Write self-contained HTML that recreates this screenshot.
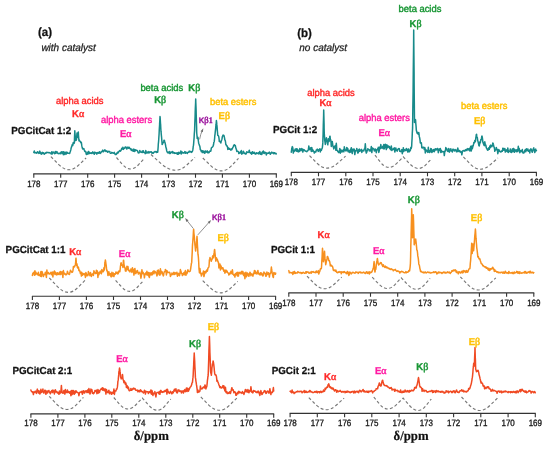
<!DOCTYPE html>
<html><head><meta charset="utf-8"><title>NMR spectra</title>
<style>
html,body{margin:0;padding:0;background:#fff;}
svg{display:block}
text{font-family:"Liberation Sans",sans-serif;fill:#111;stroke:#111;stroke-width:0.2;text-rendering:geometricPrecision}
.tk{text-anchor:middle;fill:#1a1a1a;stroke:#1a1a1a;stroke-width:0.3}
.hb{font-weight:bold;stroke-width:0.25}
.it{font-style:italic;fill:#222;stroke:#222;stroke-width:0.25}
.kb{font-weight:bold;stroke-width:0.3}
.rg{stroke-width:0.4}
.gr{font-family:"Liberation Serif",serif;font-weight:normal;stroke-width:0.45}
.sub{font-family:"Liberation Serif",serif;font-weight:bold}
.axt{font-family:"Liberation Serif",serif;font-weight:bold}
</style></head><body>
<svg width="550" height="449" viewBox="0 0 550 449">
<rect width="550" height="449" fill="#ffffff"/>
<polyline points="33.8,152.5 34.0,151.7 34.3,150.9 34.5,151.9 34.8,152.9 35.0,152.8 35.3,152.7 35.5,152.6 35.8,152.5 36.0,152.8 36.3,153.1 36.5,153.2 36.8,153.2 37.0,152.7 37.3,152.1 37.5,151.9 37.8,151.7 38.0,152.1 38.3,152.5 38.5,153.0 38.8,153.4 39.0,153.4 39.3,153.3 39.5,152.2 39.8,151.1 40.0,151.6 40.3,152.1 40.5,152.8 40.8,153.5 41.0,153.8 41.3,154.1 41.5,153.5 41.8,152.9 42.0,152.6 42.3,152.4 42.5,153.1 42.8,153.7 43.0,153.2 43.3,152.7 43.5,153.1 43.8,153.4 44.0,153.8 44.3,154.1 44.5,153.7 44.8,153.4 45.0,153.2 45.3,153.0 45.5,153.2 45.8,153.4 46.0,152.9 46.3,152.4 46.5,152.6 46.8,152.8 47.0,152.6 47.3,152.5 47.5,152.5 47.8,152.6 48.0,152.6 48.3,152.5 48.5,152.6 48.8,152.8 49.0,152.7 49.3,152.6 49.5,152.8 49.8,153.0 50.0,153.0 50.3,152.9 50.5,153.0 50.8,153.1 51.0,153.5 51.3,154.0 51.5,152.8 51.8,151.7 52.0,152.8 52.3,153.9 52.5,153.3 52.8,152.7 53.0,152.3 53.3,152.0 53.5,152.4 53.8,152.8 54.0,152.9 54.3,153.0 54.5,153.3 54.8,153.7 55.0,152.6 55.3,151.5 55.5,152.3 55.8,153.2 56.0,153.1 56.3,153.0 56.5,152.3 56.8,151.6 57.0,151.8 57.3,152.0 57.5,152.7 57.8,153.4 58.0,153.4 58.3,153.4 58.5,153.6 58.8,153.7 59.0,153.5 59.3,153.3 59.5,153.4 59.8,153.4 60.0,153.3 60.0,153.2 60.3,153.0 60.5,153.4 60.8,153.8 61.0,152.8 61.3,151.8 61.5,152.3 61.8,152.8 62.0,153.0 62.3,153.2 62.5,152.5 62.8,151.7 63.0,153.2 63.3,154.7 63.5,153.2 63.8,151.8 64.0,152.3 64.3,152.8 64.5,153.7 64.8,154.5 65.0,153.4 65.3,152.3 65.5,152.4 65.8,152.5 66.0,153.3 66.3,154.1 66.5,153.1 66.8,152.1 67.0,152.3 67.3,152.6 67.5,152.9 67.8,153.3 68.0,153.3 68.3,153.2 68.5,153.3 68.8,153.3 69.0,153.3 69.3,153.2 69.5,153.5 69.5,153.4 69.8,153.1 70.0,152.3 70.3,151.5 70.5,150.7 70.8,149.9 71.0,148.8 71.3,147.6 71.5,147.1 71.5,147.0 71.8,146.4 72.0,145.5 72.3,144.5 72.5,145.0 72.8,145.5 73.0,144.0 73.3,142.5 73.5,142.9 73.5,143.0 73.8,143.5 74.0,143.3 74.3,143.1 74.4,142.4 74.5,138.0 74.8,130.7 75.0,133.8 75.3,136.9 75.5,140.0 75.6,140.6 75.8,140.2 76.0,140.2 76.3,140.2 76.5,139.1 76.6,138.9 76.8,135.6 77.0,133.1 77.0,133.5 77.3,135.4 77.5,136.9 77.6,137.2 77.8,135.6 78.0,133.8 78.3,132.0 78.5,135.6 78.8,139.1 79.0,140.8 79.0,140.7 79.3,140.0 79.5,140.5 79.8,141.1 80.0,141.3 80.3,141.6 80.5,141.9 80.5,142.0 80.8,142.7 81.0,142.4 81.3,142.2 81.5,143.3 81.5,143.7 81.8,145.7 82.0,146.7 82.3,147.7 82.5,148.6 82.5,148.7 82.8,149.0 83.0,149.1 83.3,149.1 83.5,148.8 83.8,148.5 84.0,149.2 84.3,149.9 84.5,150.6 84.5,150.7 84.8,151.4 85.0,151.3 85.3,151.2 85.5,151.4 85.8,151.6 86.0,153.0 86.3,154.4 86.5,154.2 86.8,154.0 87.0,153.4 87.3,152.7 87.5,153.5 87.5,153.6 87.8,154.3 88.0,152.9 88.3,151.4 88.5,151.4 88.8,151.4 89.0,152.5 89.3,153.6 89.5,153.1 89.8,152.7 90.0,153.0 90.3,153.3 90.5,153.3 90.8,153.3 91.0,153.1 91.3,152.8 91.5,153.1 91.8,153.4 92.0,153.2 92.3,153.0 92.5,152.4 92.8,151.8 93.0,152.4 93.3,153.1 93.5,153.1 93.8,153.0 94.0,153.7 94.3,154.3 94.5,153.2 94.8,152.1 95.0,152.5 95.3,152.9 95.5,152.7 95.8,152.6 96.0,152.7 96.3,152.8 96.5,153.5 96.8,154.1 97.0,153.7 97.3,153.2 97.5,152.9 97.8,152.6 98.0,152.7 98.0,152.8 98.3,152.9 98.5,153.1 98.8,153.3 99.0,152.5 99.3,151.8 99.5,152.0 99.8,152.2 100.0,152.8 100.3,153.4 100.5,153.1 100.8,152.8 101.0,152.5 101.0,152.4 101.3,151.9 101.5,151.7 101.8,151.4 102.0,151.4 102.3,151.4 102.5,150.8 102.8,150.1 103.0,150.9 103.3,151.8 103.5,151.4 103.8,151.1 104.0,150.9 104.1,150.9 104.3,150.8 104.5,150.4 104.8,149.9 105.0,150.1 105.3,150.4 105.5,150.9 105.8,151.4 106.0,151.4 106.3,151.3 106.5,151.1 106.8,150.9 107.0,151.2 107.0,151.3 107.3,151.8 107.5,152.1 107.8,152.3 108.0,151.8 108.3,151.3 108.5,151.5 108.8,151.6 109.0,151.6 109.3,151.6 109.5,151.5 109.8,151.5 110.0,152.4 110.3,153.2 110.5,153.2 110.8,153.2 111.0,153.2 111.3,153.3 111.5,152.8 111.8,152.3 112.0,152.4 112.3,152.4 112.5,152.8 112.8,153.1 113.0,153.0 113.3,152.9 113.5,153.1 113.8,153.3 114.0,152.8 114.3,152.3 114.5,153.0 114.8,153.7 115.0,154.1 115.3,154.5 115.5,154.5 115.8,154.4 116.0,154.4 116.3,154.4 116.4,154.2 116.5,153.7 116.8,153.0 117.0,153.2 117.3,153.4 117.5,152.7 117.8,152.1 118.0,152.4 118.3,152.8 118.5,152.2 118.8,151.5 119.0,151.3 119.3,151.1 119.5,151.0 119.5,150.9 119.8,150.6 120.0,150.9 120.3,151.2 120.5,150.9 120.8,150.6 121.0,150.2 121.3,149.9 121.5,149.1 121.8,148.4 122.0,148.6 122.3,148.9 122.5,148.1 122.7,147.6 122.8,147.3 123.0,148.4 123.3,149.4 123.5,148.8 123.8,148.2 124.0,148.3 124.3,148.4 124.5,148.2 124.8,148.1 125.0,147.5 125.3,146.9 125.5,146.9 125.8,147.0 126.0,147.5 126.3,147.9 126.5,148.5 126.8,149.0 127.0,148.1 127.3,147.2 127.5,147.2 127.8,147.2 128.1,147.8 128.3,148.3 128.6,147.8 128.8,147.2 129.1,147.3 129.3,147.4 129.6,147.9 129.8,148.5 130.1,148.7 130.3,148.9 130.6,148.8 130.8,148.8 130.9,149.1 131.1,149.6 131.3,150.4 131.6,149.8 131.8,149.2 132.1,149.6 132.3,149.9 132.6,150.5 132.8,151.0 133.1,151.2 133.3,151.3 133.6,150.2 133.8,149.0 134.1,149.6 134.3,150.1 134.5,150.7 134.6,150.8 134.8,151.5 135.1,150.6 135.3,149.7 135.6,150.0 135.8,150.3 136.1,150.2 136.3,150.2 136.6,150.2 136.8,150.3 137.1,150.5 137.3,150.6 137.6,151.2 137.8,151.8 138.1,152.3 138.2,152.6 138.3,152.8 138.6,152.9 138.8,153.0 139.1,152.5 139.3,151.9 139.6,151.2 139.8,150.5 140.1,151.2 140.3,152.0 140.6,151.9 140.8,151.8 141.1,152.1 141.3,152.4 141.6,152.3 141.8,152.1 142.1,151.5 142.3,150.9 142.6,151.8 142.8,152.6 143.1,151.7 143.3,150.8 143.6,151.4 143.6,151.5 143.8,151.9 144.1,152.3 144.3,152.6 144.6,152.6 144.8,152.7 145.1,153.1 145.3,153.6 145.6,152.1 145.8,150.6 146.1,151.7 146.3,152.9 146.6,152.9 146.8,152.9 147.1,152.5 147.3,152.2 147.6,152.5 147.8,152.9 148.1,152.2 148.3,151.6 148.6,152.2 148.8,152.9 149.1,152.8 149.3,152.8 149.6,152.2 149.8,151.7 150.0,151.8 150.1,151.8 150.3,151.9 150.6,152.1 150.8,152.2 151.1,152.1 151.3,151.9 151.6,152.5 151.8,153.1 152.1,152.8 152.3,152.5 152.6,152.9 152.8,153.3 153.1,153.3 153.3,153.2 153.6,152.8 153.8,152.3 154.1,152.2 154.3,152.1 154.6,151.9 154.8,151.6 155.1,151.6 155.3,151.7 155.6,151.7 155.8,151.6 156.1,152.1 156.3,152.5 156.6,152.0 156.8,151.6 157.1,151.9 157.3,152.3 157.6,152.3 157.7,152.3 157.8,151.1 158.1,147.7 158.3,144.3 158.6,141.3 158.8,138.3 159.1,133.7 159.3,129.2 159.6,124.7 159.6,123.7 159.8,120.9 160.0,116.5 160.1,117.1 160.3,120.0 160.5,123.6 160.6,124.4 160.8,128.5 161.0,131.5 161.1,132.0 161.3,134.7 161.6,137.5 161.8,140.3 162.1,143.7 162.1,144.4 162.3,144.4 162.6,143.7 162.8,142.9 163.0,142.7 163.1,142.7 163.3,142.6 163.6,141.9 163.8,141.2 164.0,140.2 164.1,140.2 164.3,140.2 164.6,141.1 164.8,142.0 165.1,142.9 165.3,143.8 165.6,145.4 165.8,147.0 166.1,147.7 166.3,148.5 166.6,150.0 166.7,150.9 166.8,151.1 167.1,151.6 167.3,152.2 167.6,152.5 167.8,152.8 168.1,152.9 168.3,152.9 168.4,152.8 168.6,152.6 168.8,152.1 169.1,151.8 169.3,151.6 169.6,152.6 169.8,153.6 170.1,153.5 170.3,153.4 170.6,152.7 170.8,152.1 171.1,152.2 171.3,152.4 171.6,152.4 171.8,152.5 172.1,152.0 172.3,151.5 172.6,152.3 172.8,153.0 173.1,152.6 173.3,152.2 173.6,152.4 173.8,152.6 174.1,153.0 174.3,153.4 174.6,153.1 174.8,152.8 175.1,153.0 175.3,153.3 175.6,153.2 175.8,153.2 176.1,153.1 176.3,152.9 176.6,152.9 176.8,153.0 177.1,153.6 177.3,154.3 177.6,153.6 177.8,152.8 178.1,153.5 178.3,154.2 178.6,153.2 178.8,152.3 179.1,152.9 179.3,153.5 179.6,153.3 179.8,153.1 180.0,152.9 180.1,152.8 180.3,152.4 180.6,151.7 180.8,151.0 181.1,152.5 181.3,154.1 181.6,153.1 181.8,152.0 182.1,152.1 182.3,152.1 182.6,152.5 182.8,152.9 183.1,152.9 183.3,152.8 183.6,152.9 183.8,153.0 184.1,152.8 184.3,152.6 184.6,152.1 184.8,151.6 185.1,152.5 185.3,153.3 185.6,152.7 185.8,152.0 186.1,152.4 186.3,152.8 186.6,152.9 186.8,153.0 187.1,153.2 187.3,153.4 187.6,152.9 187.8,152.4 188.1,152.3 188.3,152.3 188.6,152.3 188.8,152.3 189.1,151.7 189.3,151.1 189.6,151.5 189.8,151.8 190.1,151.7 190.3,151.6 190.6,151.6 190.8,151.5 191.1,152.0 191.3,152.4 191.6,152.3 191.7,152.1 191.8,151.7 192.1,151.6 192.3,151.6 192.6,150.7 192.8,149.9 193.1,147.8 193.3,145.7 193.4,145.7 193.6,144.1 193.8,141.4 194.1,137.6 194.3,133.8 194.5,131.5 194.6,130.2 194.8,123.7 195.1,116.5 195.2,112.2 195.3,109.4 195.6,102.9 195.7,99.0 195.8,102.2 196.1,109.8 196.2,114.3 196.3,117.8 196.6,126.9 196.7,132.3 196.8,133.7 197.1,136.7 197.2,138.5 197.3,138.5 197.6,137.8 197.8,137.2 198.0,137.7 198.1,138.2 198.3,140.5 198.6,142.5 198.6,142.9 198.8,143.5 199.1,144.3 199.2,144.8 199.3,145.1 199.6,145.7 199.8,146.2 200.1,147.9 200.3,149.7 200.6,149.7 200.8,149.8 200.9,150.3 201.1,150.7 201.3,151.5 201.6,151.1 201.8,150.7 202.1,151.6 202.3,152.6 202.6,151.7 202.8,150.8 203.1,151.7 203.3,152.6 203.4,152.4 203.6,151.9 203.8,151.2 204.1,151.8 204.3,152.5 204.6,152.9 204.8,153.3 205.1,152.1 205.3,150.9 205.6,151.1 205.8,151.4 206.1,151.8 206.3,152.2 206.6,152.0 206.8,151.9 207.1,151.4 207.3,150.9 207.6,151.9 207.8,152.8 208.1,152.4 208.3,151.9 208.6,152.4 208.8,152.8 209.1,152.5 209.3,152.1 209.6,151.5 209.8,151.0 210.1,151.2 210.1,151.2 210.3,151.0 210.6,151.1 210.8,151.2 211.1,149.6 211.3,148.0 211.6,147.7 211.8,147.5 212.1,147.3 212.3,147.1 212.6,146.7 212.6,146.6 212.8,146.5 213.1,146.0 213.3,145.5 213.6,144.3 213.7,143.5 213.8,142.4 214.1,141.8 214.3,141.2 214.6,138.5 214.8,135.7 215.1,133.8 215.1,133.5 215.3,131.6 215.6,129.1 215.8,126.7 216.1,124.2 216.3,121.7 216.4,120.6 216.6,122.0 216.8,124.4 217.1,127.2 217.3,130.1 217.6,133.3 217.6,134.0 217.8,135.4 218.1,135.5 218.3,135.6 218.6,136.3 218.8,137.0 219.1,139.2 219.3,141.4 219.6,141.5 219.8,141.5 220.1,141.8 220.3,142.0 220.6,142.5 220.8,143.0 220.9,142.7 221.1,141.8 221.3,140.4 221.6,140.2 221.7,140.1 221.8,139.7 222.1,138.3 222.3,136.9 222.4,136.5 222.6,136.3 222.8,136.0 223.1,135.3 223.1,135.1 223.3,135.5 223.6,135.4 223.8,135.3 223.9,135.5 224.1,136.0 224.3,136.9 224.6,138.4 224.8,139.9 225.1,140.3 225.3,140.6 225.6,142.5 225.8,144.4 226.1,144.7 226.3,145.0 226.5,145.7 226.6,145.8 226.8,146.0 227.1,146.1 227.3,146.1 227.6,147.7 227.8,149.4 228.1,148.7 228.3,148.0 228.6,148.0 228.8,148.0 229.1,148.6 229.3,149.3 229.6,149.0 229.8,148.8 230.1,149.1 230.3,149.4 230.6,149.8 230.8,150.1 231.1,149.5 231.3,149.0 231.6,149.3 231.8,149.7 232.1,149.0 232.3,148.4 232.6,148.0 232.8,147.7 233.1,147.0 233.3,146.4 233.6,145.8 233.6,145.7 233.8,145.4 234.1,145.1 234.3,144.7 234.6,145.3 234.8,145.8 235.1,145.5 235.1,145.4 235.3,145.5 235.6,146.8 235.8,148.0 235.9,148.2 236.1,148.6 236.3,149.3 236.6,150.3 236.8,151.4 237.1,151.2 237.3,151.1 237.6,151.2 237.8,151.3 238.1,151.5 238.3,151.6 238.6,152.6 238.8,153.6 239.1,153.3 239.3,153.0 239.6,153.0 239.8,153.0 240.1,152.4 240.3,151.8 240.6,152.5 240.8,153.1 241.1,151.9 241.3,150.6 241.6,152.4 241.8,154.2 242.1,153.6 242.3,153.0 242.6,153.1 242.8,153.2 243.1,152.2 243.3,151.2 243.6,151.8 243.8,152.3 244.1,153.0 244.3,153.6 244.6,153.3 244.8,153.0 245.1,153.2 245.3,153.5 245.6,153.8 245.8,154.1 246.1,153.9 246.3,153.6 246.6,152.7 246.8,151.7 247.1,152.0 247.3,152.4 247.6,152.3 247.8,152.3 248.1,152.4 248.3,152.4 248.6,152.0 248.8,151.6 249.1,150.9 249.3,150.3 249.6,151.4 249.8,152.5 250.0,152.6 250.1,152.6 250.3,152.7 250.6,153.1 250.8,153.5 251.1,153.2 251.3,152.9 251.6,153.5 251.8,154.2 252.1,152.9 252.3,151.7 252.6,151.9 252.8,152.1 253.1,152.7 253.3,153.3 253.6,153.1 253.8,152.9 254.1,152.6 254.3,152.4 254.6,153.0 254.8,153.7 255.1,153.8 255.3,153.9 255.6,154.0 255.8,154.1 256.1,153.4 256.3,152.8 256.6,152.9 256.8,153.1 257.1,153.2 257.3,153.3 257.6,153.2 257.8,153.1 258.1,153.5 258.3,153.9 258.6,153.1 258.8,152.4 259.1,152.9 259.3,153.4 259.6,152.4 259.8,151.4 260.1,152.8 260.3,154.1 260.6,154.2 260.8,154.3 261.1,153.7 261.3,153.1 261.6,153.8 261.8,154.5 262.1,153.2 262.3,151.9 262.6,152.4 262.8,152.8 263.1,151.9 263.3,151.0 263.6,152.2 263.8,153.3 264.1,153.4 264.3,153.5 264.6,152.8 264.8,152.1 265.1,152.3 265.3,152.5 265.6,152.6 265.8,152.7 266.1,153.8 266.3,154.9 266.6,154.0 266.8,153.0 267.1,153.1 267.3,153.2 267.6,153.3 267.8,153.4 268.1,153.3 268.3,153.3 268.6,153.1 268.8,152.9 269.1,152.5 269.3,152.1 269.6,152.3 269.8,152.6 270.1,153.5 270.3,154.3 270.6,153.8 270.8,153.3 271.1,153.1 271.3,152.8 271.6,152.5 271.8,152.1 272.1,152.6 272.3,153.1 272.6,153.1 272.8,153.1 273.1,152.9 273.3,152.6 273.6,153.2 273.8,153.8 274.1,153.2 274.3,152.7 274.6,152.8 274.8,153.0 275.1,153.4 275.3,153.7 275.6,153.5 275.8,153.3 276.1,153.6 276.3,153.9" fill="none" stroke="#178a8a" stroke-width="1.5" stroke-linejoin="round" stroke-linecap="round"/>
<path d="M50.9,156.6 L58.5,164.3 Q68.9,174.8 78.9,164.9 L86.1,158.0" fill="none" stroke="#787878" stroke-width="1.15" stroke-dasharray="3,2.3"/>
<path d="M116.5,157.5 L122.4,164.3 Q130.5,173.5 138.6,164.6 L144.4,158.3" fill="none" stroke="#787878" stroke-width="1.15" stroke-dasharray="3,2.3"/>
<path d="M151.0,154.5 L161.3,163.8 Q175.5,176.0 186.8,165.0 L195.0,157.5" fill="none" stroke="#787878" stroke-width="1.15" stroke-dasharray="3,2.3"/>
<path d="M202.8,158.0 L210.7,165.6 Q221.7,176.1 231.4,165.8 L238.5,158.4" fill="none" stroke="#787878" stroke-width="1.15" stroke-dasharray="3,2.3"/>
<path d="M33.3,173.8H276.8" stroke="#333333" stroke-width="1.15" fill="none"/>
<path d="M33.8,173.8V177.7M60.7,173.8V177.7M87.7,173.8V177.7M114.6,173.8V177.7M141.6,173.8V177.7M168.5,173.8V177.7M195.5,173.8V177.7M222.4,173.8V177.7M249.4,173.8V177.7M276.3,173.8V177.7" stroke="#333333" stroke-width="1.1" fill="none"/>
<text transform="translate(33.8 186.6) scale(1 1.15)" class="tk" font-size="8">178</text>
<text transform="translate(60.7 186.6) scale(1 1.15)" class="tk" font-size="8">177</text>
<text transform="translate(87.7 186.6) scale(1 1.15)" class="tk" font-size="8">176</text>
<text transform="translate(114.6 186.6) scale(1 1.15)" class="tk" font-size="8">175</text>
<text transform="translate(141.6 186.6) scale(1 1.15)" class="tk" font-size="8">174</text>
<text transform="translate(168.5 186.6) scale(1 1.15)" class="tk" font-size="8">173</text>
<text transform="translate(195.5 186.6) scale(1 1.15)" class="tk" font-size="8">172</text>
<text transform="translate(222.4 186.6) scale(1 1.15)" class="tk" font-size="8">171</text>
<text transform="translate(249.4 186.6) scale(1 1.15)" class="tk" font-size="8">170</text>
<text transform="translate(276.3 186.6) scale(1 1.15)" class="tk" font-size="8">169</text>
<polyline points="32.4,275.4 32.6,274.3 32.9,273.2 33.1,273.1 33.4,273.1 33.6,272.7 33.9,272.3 34.1,273.7 34.4,275.2 34.6,273.0 34.9,270.8 35.1,272.8 35.4,274.7 35.6,273.5 35.9,272.3 36.1,273.1 36.4,273.8 36.6,273.6 36.9,273.5 37.1,274.1 37.4,274.7 37.6,274.8 37.9,274.9 38.1,273.6 38.4,272.2 38.6,273.8 38.9,275.4 39.1,275.2 39.4,274.9 39.6,275.2 39.9,275.4 40.1,275.7 40.4,276.1 40.6,273.8 40.9,271.6 41.1,274.1 41.4,276.6 41.6,274.0 41.9,271.4 42.1,272.1 42.4,272.8 42.6,273.6 42.9,274.3 43.1,275.5 43.4,276.6 43.6,275.7 43.9,274.7 44.1,274.5 44.4,274.3 44.6,274.5 44.9,274.6 45.1,273.4 45.4,272.2 45.6,273.0 45.9,273.8 46.1,275.7 46.4,277.5 46.6,273.8 46.9,270.1 47.1,271.8 47.4,273.4 47.6,273.6 47.9,273.7 48.1,273.1 48.4,272.5 48.6,273.0 48.9,273.6 49.1,273.8 49.4,274.0 49.6,273.7 49.9,273.4 50.1,273.5 50.4,273.6 50.6,272.9 50.9,272.2 51.1,273.4 51.4,274.7 51.6,273.8 51.9,272.8 52.1,272.5 52.4,272.1 52.6,274.5 52.9,277.0 53.1,274.6 53.4,272.3 53.6,272.7 53.9,273.1 54.1,272.0 54.4,270.9 54.6,272.7 54.9,274.4 55.1,273.3 55.4,272.2 55.6,272.5 55.9,272.8 56.1,273.8 56.4,274.9 56.6,274.8 56.9,274.6 57.1,273.7 57.4,272.7 57.6,273.7 57.9,274.6 58.1,274.5 58.4,274.4 58.6,274.0 58.9,273.6 59.1,273.0 59.4,272.4 59.6,273.5 59.9,274.5 60.0,273.9 60.1,273.0 60.4,271.5 60.6,272.9 60.9,274.4 61.1,274.0 61.4,273.7 61.6,272.8 61.9,271.8 62.1,272.0 62.4,272.1 62.6,274.7 62.9,277.4 63.1,274.0 63.4,270.5 63.6,272.1 63.9,273.7 64.2,273.4 64.4,273.1 64.7,273.7 64.9,274.3 65.2,274.1 65.4,274.0 65.7,274.5 65.9,274.9 66.2,274.7 66.4,274.6 66.7,274.0 66.9,273.4 67.2,272.4 67.4,271.3 67.7,272.1 67.9,272.9 68.2,273.5 68.4,274.1 68.7,274.1 68.7,274.1 68.9,274.0 69.2,274.2 69.4,274.5 69.7,273.4 69.9,272.2 70.2,271.2 70.4,270.3 70.7,270.6 70.9,270.9 71.2,271.3 71.4,271.7 71.7,272.1 71.9,272.4 72.2,272.3 72.4,272.1 72.7,271.4 72.9,270.7 73.2,268.6 73.4,266.6 73.7,266.6 73.9,266.7 74.2,266.9 74.3,267.0 74.4,267.0 74.7,266.3 74.9,265.6 75.2,265.1 75.4,264.6 75.5,263.7 75.7,261.7 75.9,258.4 76.0,258.2 76.2,260.8 76.4,265.0 76.7,265.3 76.7,265.4 76.9,263.7 77.2,265.6 77.4,267.5 77.7,267.8 77.9,268.1 78.2,267.2 78.2,267.0 78.4,267.1 78.7,268.8 78.9,270.6 79.0,270.5 79.2,270.3 79.4,270.0 79.7,270.7 79.9,271.5 80.2,272.5 80.4,273.5 80.7,272.7 80.9,271.9 81.2,274.0 81.4,276.1 81.7,274.4 81.8,273.5 81.9,272.6 82.2,274.0 82.4,275.3 82.7,275.0 82.9,274.6 83.2,274.1 83.4,273.6 83.7,274.0 83.9,274.4 84.2,274.5 84.4,274.7 84.7,274.1 84.9,273.5 85.2,275.5 85.4,277.4 85.7,275.0 85.9,272.6 86.2,273.3 86.4,274.1 86.7,274.9 86.9,275.7 87.2,275.2 87.4,274.8 87.7,275.2 87.9,275.6 88.2,273.6 88.4,271.6 88.7,272.6 88.9,273.5 89.2,273.7 89.4,273.9 89.7,274.8 89.9,275.7 90.0,275.1 90.2,274.1 90.4,272.5 90.7,273.1 90.9,273.7 91.2,275.1 91.4,276.5 91.7,275.6 91.9,274.7 92.2,274.5 92.4,274.3 92.7,273.9 92.9,273.5 93.2,274.4 93.4,275.4 93.7,273.1 93.9,270.7 94.2,271.5 94.4,272.3 94.7,272.5 94.9,272.6 95.2,273.1 95.4,273.6 95.7,273.5 95.9,273.4 96.2,271.8 96.4,270.2 96.7,271.9 96.9,273.5 97.2,272.3 97.4,271.0 97.7,274.3 97.9,277.5 98.2,275.2 98.4,272.9 98.7,273.8 98.9,274.8 99.2,273.6 99.3,272.9 99.4,272.3 99.7,272.3 99.9,272.4 100.2,271.8 100.4,271.1 100.7,272.2 100.9,273.3 101.2,273.5 101.4,273.7 101.7,271.5 101.9,269.4 102.2,270.6 102.4,271.7 102.7,271.8 102.9,271.8 103.2,271.7 103.4,271.6 103.7,269.7 103.9,267.8 104.2,268.9 104.4,269.9 104.7,266.0 104.9,262.1 105.0,261.8 105.2,261.1 105.4,260.0 105.7,261.8 105.9,263.5 106.2,265.4 106.4,267.3 106.5,268.4 106.7,269.3 106.9,270.9 107.2,270.9 107.4,271.0 107.7,273.3 107.9,275.5 108.2,273.8 108.4,272.0 108.7,272.0 108.7,272.0 108.9,271.8 109.2,273.5 109.4,275.1 109.7,274.7 109.9,274.2 110.2,273.9 110.4,273.6 110.7,275.1 110.9,276.6 111.2,276.7 111.4,276.8 111.7,274.5 111.9,272.2 112.2,273.0 112.4,273.8 112.7,274.9 112.9,276.1 113.2,274.6 113.4,273.0 113.7,274.8 113.9,276.6 114.2,275.2 114.4,273.8 114.7,274.2 114.9,274.5 115.2,274.3 115.4,274.1 115.7,273.1 115.9,272.1 116.2,272.7 116.4,273.4 116.7,272.9 116.7,272.8 116.9,272.3 117.2,272.3 117.4,272.2 117.7,273.1 117.9,274.0 118.2,273.4 118.4,272.9 118.7,271.9 118.9,271.0 119.2,271.1 119.4,271.3 119.6,271.8 119.7,271.8 119.9,271.5 120.2,269.1 120.4,266.7 120.5,266.1 120.7,265.0 120.9,263.2 121.1,262.7 121.2,263.1 121.4,265.1 121.7,265.2 121.7,265.2 121.9,265.0 122.2,265.3 122.3,265.5 122.4,264.9 122.7,266.2 122.9,267.5 123.0,266.2 123.2,264.0 123.4,260.5 123.6,260.2 123.7,260.8 123.9,263.5 124.1,265.1 124.2,265.4 124.4,266.9 124.7,267.6 124.7,267.7 124.9,267.3 125.2,269.1 125.4,270.9 125.7,271.0 125.9,271.2 126.2,270.1 126.4,269.1 126.7,267.7 126.9,266.3 127.2,267.9 127.4,269.5 127.7,268.0 127.9,266.4 128.2,268.3 128.4,270.2 128.7,270.5 128.9,270.8 129.2,270.6 129.4,270.3 129.7,271.1 129.9,271.9 130.2,271.2 130.4,270.5 130.7,269.8 130.9,269.0 131.2,269.5 131.3,269.8 131.4,270.0 131.7,271.3 131.9,272.5 132.2,270.1 132.4,267.7 132.7,269.7 132.9,271.6 133.2,270.5 133.4,269.5 133.7,272.3 133.9,275.1 134.2,272.3 134.4,269.5 134.7,269.0 134.9,268.5 135.2,271.0 135.4,273.6 135.6,273.6 135.7,273.6 135.9,273.6 136.2,272.4 136.4,271.2 136.7,271.7 136.9,272.2 137.2,271.3 137.4,270.4 137.7,271.4 137.9,272.3 138.2,273.2 138.4,274.0 138.7,273.6 138.9,273.3 139.2,273.1 139.4,272.9 139.7,272.5 139.9,272.2 140.0,272.7 140.2,273.5 140.4,274.9 140.7,276.5 140.9,278.2 141.2,276.8 141.4,275.5 141.7,272.6 141.9,269.7 142.2,271.7 142.4,273.7 142.7,273.0 142.9,272.2 143.2,272.6 143.4,273.0 143.7,273.6 143.9,274.2 144.2,276.0 144.4,277.8 144.7,276.0 144.9,274.1 145.2,273.9 145.4,273.7 145.7,273.3 145.9,272.9 146.2,273.8 146.4,274.7 146.7,273.0 146.9,271.2 147.2,273.1 147.4,274.9 147.7,275.1 147.9,275.2 148.2,273.8 148.4,272.4 148.7,274.4 148.9,276.4 149.2,276.9 149.4,277.5 149.7,275.1 149.9,272.8 150.0,273.2 150.2,274.0 150.4,275.1 150.7,274.1 150.9,273.1 151.2,272.9 151.4,272.7 151.7,273.9 151.9,275.0 152.2,274.6 152.4,274.2 152.7,272.9 152.9,271.6 153.2,271.4 153.4,271.1 153.7,272.5 153.9,273.8 154.2,272.4 154.4,271.1 154.7,271.2 154.9,271.3 155.2,272.1 155.4,272.8 155.7,272.6 155.9,272.4 156.0,272.7 156.2,273.0 156.4,273.6 156.7,274.7 156.9,275.9 157.2,273.3 157.4,270.6 157.7,272.7 157.9,274.7 158.2,272.4 158.4,270.0 158.7,271.1 158.9,272.1 159.2,272.8 159.4,273.5 159.7,274.4 159.9,275.3 160.2,272.0 160.4,268.8 160.7,271.3 160.9,273.9 161.0,273.3 161.2,272.5 161.4,271.2 161.7,271.5 161.9,271.8 162.2,272.2 162.4,272.6 162.7,273.7 162.9,274.9 163.2,275.4 163.4,275.9 163.7,274.5 163.9,273.0 164.2,272.3 164.4,271.6 164.7,271.6 164.9,271.5 165.2,270.5 165.4,269.5 165.7,270.1 165.9,270.7 166.0,271.5 166.2,272.8 166.4,274.9 166.7,272.8 166.9,270.6 167.2,271.1 167.4,271.5 167.7,272.1 167.9,272.6 168.2,272.6 168.4,272.6 168.7,272.5 168.9,272.4 169.2,272.3 169.4,272.3 169.7,272.7 169.9,273.1 170.2,274.7 170.4,276.4 170.7,275.9 170.9,275.4 171.0,275.2 171.2,274.9 171.4,274.5 171.7,273.8 171.9,273.1 172.2,273.8 172.4,274.4 172.7,274.5 172.9,274.6 173.2,273.7 173.4,272.8 173.7,272.5 173.9,272.3 174.2,273.4 174.4,274.4 174.7,273.6 174.9,272.9 175.2,272.8 175.4,272.8 175.7,273.3 175.9,273.9 176.2,273.8 176.4,273.7 176.7,273.0 176.9,272.3 177.2,274.3 177.4,276.3 177.7,275.3 177.9,274.2 178.2,273.8 178.4,273.4 178.7,274.1 178.9,274.8 179.2,275.3 179.4,275.8 179.7,274.7 179.9,273.6 180.2,271.6 180.4,269.6 180.7,270.6 180.9,271.6 181.2,272.5 181.4,273.4 181.7,273.5 181.9,273.7 182.2,274.6 182.4,275.6 182.7,274.9 182.9,274.2 183.2,273.6 183.4,272.9 183.7,273.8 183.9,274.6 184.2,273.5 184.4,272.3 184.7,273.5 184.9,274.8 185.0,274.0 185.2,272.7 185.4,270.6 185.7,273.0 185.9,275.3 186.2,273.8 186.4,272.4 186.7,273.1 186.9,273.8 187.2,272.8 187.4,271.8 187.7,270.8 187.9,269.8 188.2,270.6 188.4,271.4 188.7,271.5 188.9,271.6 189.2,271.6 189.4,271.7 189.7,271.5 189.9,271.3 190.0,271.3 190.2,270.9 190.4,270.2 190.7,268.5 190.9,266.8 191.2,265.0 191.4,263.2 191.6,263.2 191.7,262.4 191.9,258.3 192.2,252.6 192.4,246.9 192.6,243.6 192.7,243.0 192.9,240.1 193.2,236.1 193.4,232.1 193.6,229.2 193.7,229.8 193.9,233.0 194.2,235.5 194.4,237.9 194.6,240.9 194.7,241.6 194.9,244.7 195.2,246.9 195.4,249.2 195.6,251.0 195.7,250.6 195.9,248.5 196.2,246.1 196.4,243.6 196.7,240.6 196.9,237.6 197.0,236.3 197.2,239.4 197.4,244.5 197.5,246.3 197.7,248.9 197.9,253.2 198.0,254.5 198.2,255.5 198.4,257.3 198.7,262.0 198.9,266.7 199.0,268.8 199.2,270.3 199.4,272.7 199.7,270.6 199.9,268.4 200.2,270.9 200.4,273.5 200.6,273.6 200.7,273.5 200.9,272.9 201.2,274.5 201.4,276.1 201.7,275.2 201.9,274.4 202.2,273.8 202.4,273.3 202.7,273.5 202.9,273.7 203.2,272.3 203.4,271.0 203.7,273.8 203.9,276.6 204.0,276.2 204.2,275.5 204.4,274.3 204.7,272.9 204.9,271.4 205.2,271.5 205.4,271.5 205.7,272.2 205.9,272.9 206.2,271.7 206.4,270.5 206.7,270.2 206.9,269.9 207.0,270.3 207.2,270.7 207.4,271.2 207.7,269.7 207.9,268.2 208.2,267.9 208.4,267.6 208.7,267.2 208.9,266.9 209.0,266.0 209.2,263.7 209.4,259.9 209.7,259.2 209.9,258.6 210.0,257.4 210.2,258.1 210.4,259.3 210.7,259.4 210.9,259.6 211.2,261.0 211.2,261.3 211.4,260.2 211.7,260.0 211.9,259.9 212.2,258.8 212.4,257.7 212.6,256.0 212.7,256.0 212.9,255.8 213.2,256.8 213.4,257.8 213.7,256.0 213.9,254.2 214.2,252.4 214.4,250.5 214.6,249.5 214.7,249.9 214.9,252.3 215.2,255.0 215.4,257.7 215.7,259.7 215.8,261.0 215.9,261.2 216.2,259.4 216.4,257.7 216.7,258.5 216.9,259.4 217.0,259.4 217.2,259.4 217.4,259.6 217.7,260.6 217.9,261.6 218.2,261.9 218.4,262.2 218.7,265.0 218.9,267.9 219.0,267.6 219.2,267.1 219.4,266.2 219.7,265.0 219.9,263.9 220.2,266.9 220.4,269.9 220.7,267.8 220.9,265.6 221.0,266.0 221.2,266.6 221.4,267.5 221.7,268.1 221.9,268.7 222.2,268.3 222.4,267.8 222.7,267.8 222.9,267.8 223.2,268.9 223.4,270.0 223.7,270.7 223.9,271.3 224.0,271.1 224.2,270.8 224.4,270.1 224.7,271.7 224.9,273.2 225.2,272.5 225.4,271.8 225.7,270.9 225.9,270.0 226.2,271.1 226.4,272.1 226.7,271.4 226.9,270.7 227.0,271.0 227.2,271.4 227.4,272.2 227.7,272.6 227.9,272.9 228.2,273.0 228.4,273.0 228.7,274.0 228.9,275.0 229.2,274.2 229.4,273.3 229.7,273.7 229.9,274.1 230.0,273.9 230.2,273.5 230.4,272.9 230.7,272.0 230.9,271.2 231.2,272.0 231.4,272.7 231.7,273.3 231.9,273.8 232.2,271.8 232.4,269.8 232.7,272.0 232.9,274.2 233.2,274.3 233.4,274.4 233.7,275.0 233.9,275.5 234.2,275.0 234.4,274.5 234.7,275.8 234.9,277.1 235.0,276.5 235.2,275.5 235.4,273.9 235.7,273.6 235.9,273.3 236.2,274.0 236.4,274.8 236.7,273.6 236.9,272.4 237.2,274.2 237.4,276.0 237.7,274.1 237.9,272.2 238.2,274.1 238.4,276.1 238.7,274.6 238.9,273.0 239.2,273.1 239.4,273.2 239.7,272.7 239.9,272.3 240.2,272.8 240.4,273.4 240.7,273.7 240.9,274.0 241.2,272.8 241.4,271.6 241.7,271.4 241.9,271.2 242.2,272.5 242.4,273.8 242.7,272.7 242.9,271.6 243.2,273.2 243.4,274.8 243.7,275.2 243.9,275.6 244.2,274.3 244.4,273.0 244.7,275.9 244.9,278.7 245.2,276.2 245.4,273.8 245.7,273.0 245.9,272.2 246.2,274.4 246.4,276.7 246.7,275.6 246.9,274.5 247.2,273.8 247.4,273.0 247.7,273.4 247.9,273.7 248.2,274.8 248.4,276.0 248.7,276.1 248.9,276.3 249.2,275.0 249.4,273.8 249.7,273.0 249.9,272.2 250.2,272.6 250.4,273.0 250.7,274.4 250.9,275.7 251.2,274.8 251.4,273.9 251.7,274.1 251.9,274.3 252.2,274.4 252.4,274.4 252.7,275.3 252.9,276.2 253.2,274.8 253.4,273.3 253.7,273.5 253.9,273.6 254.2,272.1 254.4,270.6 254.7,272.1 254.9,273.6 255.2,272.4 255.4,271.1 255.7,271.9 255.9,272.6 256.1,273.3 256.4,273.9 256.6,273.4 256.9,272.9 257.1,273.2 257.4,273.6 257.6,272.0 257.9,270.4 258.1,271.8 258.4,273.2 258.6,273.6 258.9,274.1 259.1,273.9 259.4,273.8 259.6,274.4 259.9,274.9 260.0,274.5 260.1,273.8 260.4,272.7 260.6,273.8 260.9,274.8 261.1,273.9 261.4,272.9 261.6,273.2 261.9,273.4 262.1,274.4 262.4,275.3 262.6,275.7 262.9,276.0 263.1,275.5 263.4,275.1 263.6,273.6 263.9,272.1 264.1,272.7 264.4,273.3 264.6,273.2 264.9,273.1 265.1,273.5 265.4,274.0 265.6,275.1 265.9,276.3 266.1,275.9 266.4,275.6 266.6,273.8 266.9,272.0 267.1,273.2 267.4,274.4 267.6,274.3 267.9,274.2 268.1,273.5 268.4,272.8 268.6,273.0 268.9,273.3 269.1,275.2 269.4,277.1 269.6,275.3 269.9,273.6 270.1,273.6 270.4,273.6 270.5,273.5 270.6,273.1 270.9,272.4 271.1,269.7 271.4,267.0 271.6,269.2 271.9,271.4 272.0,271.5 272.1,272.2 272.4,273.4 272.6,274.8 272.9,276.3 273.1,277.1 273.2,277.3 273.4,277.5 273.6,274.9 273.9,272.4 274.1,273.1 274.4,273.9 274.6,273.5 274.9,273.1 275.1,273.7 275.4,274.3 275.6,273.3 275.7,273.1" fill="none" stroke="#f7901e" stroke-width="1.5" stroke-linejoin="round" stroke-linecap="round"/>
<path d="M49.3,277.9 L57.2,286.4 Q68.1,297.8 78.1,287.3 L85.3,280.0" fill="none" stroke="#787878" stroke-width="1.15" stroke-dasharray="3,2.3"/>
<path d="M115.6,280.3 L121.5,286.9 Q129.6,295.9 137.6,287.0 L143.4,280.7" fill="none" stroke="#787878" stroke-width="1.15" stroke-dasharray="3,2.3"/>
<path d="M202.7,280.7 L210.3,287.9 Q220.9,297.6 230.7,288.1 L237.8,281.4" fill="none" stroke="#787878" stroke-width="1.15" stroke-dasharray="3,2.3"/>
<path d="M31.9,296.2H276.1" stroke="#333333" stroke-width="1.15" fill="none"/>
<path d="M32.4,296.2V300.1M59.4,296.2V300.1M86.4,296.2V300.1M113.5,296.2V300.1M140.5,296.2V300.1M167.5,296.2V300.1M194.5,296.2V300.1M221.6,296.2V300.1M248.6,296.2V300.1M275.6,296.2V300.1" stroke="#333333" stroke-width="1.1" fill="none"/>
<text transform="translate(32.4 308.7) scale(1 1.15)" class="tk" font-size="8">178</text>
<text transform="translate(59.4 308.7) scale(1 1.15)" class="tk" font-size="8">177</text>
<text transform="translate(86.4 308.7) scale(1 1.15)" class="tk" font-size="8">176</text>
<text transform="translate(113.5 308.7) scale(1 1.15)" class="tk" font-size="8">175</text>
<text transform="translate(140.5 308.7) scale(1 1.15)" class="tk" font-size="8">174</text>
<text transform="translate(167.5 308.7) scale(1 1.15)" class="tk" font-size="8">173</text>
<text transform="translate(194.5 308.7) scale(1 1.15)" class="tk" font-size="8">172</text>
<text transform="translate(221.6 308.7) scale(1 1.15)" class="tk" font-size="8">171</text>
<text transform="translate(248.6 308.7) scale(1 1.15)" class="tk" font-size="8">170</text>
<text transform="translate(275.6 308.7) scale(1 1.15)" class="tk" font-size="8">169</text>
<polyline points="30.9,390.0 31.1,390.6 31.4,391.3 31.6,391.5 31.9,391.7 32.1,392.0 32.4,392.3 32.6,392.1 32.9,391.8 33.1,393.2 33.4,394.6 33.6,393.2 33.9,391.9 34.1,392.2 34.4,392.5 34.6,392.1 34.9,391.7 35.1,391.4 35.4,391.2 35.6,391.6 35.9,392.0 36.1,392.7 36.4,393.4 36.6,392.0 36.9,390.6 37.1,389.9 37.4,389.1 37.6,389.9 37.9,390.8 38.1,391.9 38.4,393.1 38.6,391.9 38.9,390.7 39.1,391.6 39.4,392.4 39.6,393.2 39.9,394.0 40.1,393.5 40.4,392.9 40.6,391.1 40.9,389.3 41.1,390.9 41.4,392.4 41.6,391.8 41.9,391.2 42.1,391.4 42.4,391.7 42.6,390.4 42.9,389.1 43.1,390.7 43.4,392.3 43.6,392.7 43.9,393.1 44.1,392.2 44.4,391.4 44.6,390.8 44.9,390.2 45.1,390.3 45.4,390.4 45.6,392.3 45.9,394.3 46.1,393.0 46.4,391.7 46.6,391.4 46.9,391.0 47.1,392.0 47.4,393.0 47.6,392.0 47.9,391.0 48.1,391.2 48.4,391.5 48.6,391.0 48.9,390.5 49.1,391.5 49.4,392.4 49.6,392.2 49.9,392.0 50.1,392.9 50.4,393.8 50.6,392.8 50.9,391.8 51.1,391.5 51.4,391.2 51.6,390.8 51.9,390.5 52.1,391.5 52.4,392.6 52.6,391.3 52.9,390.0 53.1,390.9 53.4,391.8 53.6,391.5 53.9,391.1 54.1,392.5 54.4,393.9 54.6,392.3 54.9,390.6 55.1,390.2 55.4,389.8 55.6,390.9 55.9,392.0 56.1,391.7 56.4,391.5 56.6,391.4 56.9,391.4 57.1,392.2 57.4,393.0 57.6,392.9 57.9,392.8 58.1,392.7 58.4,392.6 58.6,393.5 58.9,394.3 59.1,392.7 59.4,391.1 59.6,392.2 59.9,393.4 60.0,392.9 60.1,392.3 60.4,391.2 60.6,391.9 60.9,392.6 61.1,389.0 61.4,385.4 61.6,388.3 61.9,391.2 62.1,391.9 62.4,392.7 62.6,392.9 62.9,393.2 63.1,392.5 63.4,391.9 63.6,391.2 63.9,390.5 64.2,391.9 64.4,393.3 64.7,393.7 64.9,394.1 65.2,391.8 65.4,389.5 65.7,390.8 65.9,392.1 66.2,392.4 66.4,392.6 66.7,392.6 66.9,392.5 67.2,391.3 67.4,390.0 67.7,391.2 67.9,392.4 68.2,392.2 68.4,392.1 68.7,391.9 68.9,391.6 69.2,392.4 69.4,393.1 69.7,393.2 69.9,393.2 70.2,392.3 70.4,391.5 70.7,393.6 70.9,395.7 71.2,393.2 71.4,390.6 71.7,392.7 71.9,394.7 72.2,392.7 72.4,390.6 72.7,392.3 72.9,393.9 73.2,392.3 73.4,390.6 73.7,391.7 73.9,392.8 74.2,393.5 74.4,394.2 74.7,392.7 74.9,391.2 75.2,392.1 75.4,393.1 75.7,391.9 75.9,390.8 76.2,391.1 76.4,391.4 76.7,391.8 76.9,392.3 77.2,392.3 77.4,392.3 77.7,392.5 77.9,392.7 78.2,392.8 78.4,392.9 78.7,394.3 78.9,395.7 79.2,394.4 79.4,393.2 79.7,392.7 79.9,392.2 80.2,392.1 80.4,392.0 80.7,392.0 80.9,392.0 81.2,392.2 81.4,392.4 81.7,391.8 81.9,391.2 82.2,392.8 82.4,394.3 82.7,393.3 82.9,392.4 83.2,391.6 83.4,390.8 83.7,390.9 83.9,391.0 84.2,392.1 84.4,393.1 84.7,392.8 84.9,392.5 85.2,391.8 85.4,391.2 85.7,391.0 85.9,390.8 86.2,390.8 86.4,390.8 86.7,391.7 86.9,392.5 87.2,392.0 87.4,391.6 87.7,390.7 87.9,389.8 88.2,391.2 88.4,392.6 88.7,390.6 88.9,388.6 89.2,389.8 89.4,391.0 89.7,392.5 89.9,394.0 90.2,393.5 90.4,393.0 90.7,391.0 90.9,389.1 91.2,390.0 91.4,391.0 91.7,390.4 91.9,389.8 92.2,391.5 92.4,393.2 92.7,392.8 92.9,392.4 93.2,393.1 93.4,393.7 93.7,393.3 93.9,392.9 94.2,392.8 94.4,392.8 94.7,391.7 94.9,390.5 95.2,390.9 95.4,391.3 95.7,391.3 95.9,391.3 96.2,390.7 96.4,390.1 96.7,391.9 96.9,393.7 97.2,393.1 97.4,392.4 97.7,391.0 97.9,389.5 98.0,390.2 98.2,391.3 98.4,393.0 98.7,391.8 98.9,390.5 99.2,391.5 99.4,392.5 99.7,391.5 99.9,390.5 100.2,390.1 100.4,389.7 100.7,389.6 100.9,389.4 101.0,389.3 101.2,389.0 101.4,388.5 101.7,389.0 101.9,389.4 102.2,388.5 102.4,387.7 102.7,389.0 102.9,390.3 103.2,389.3 103.4,388.3 103.7,388.9 103.9,389.5 104.2,390.2 104.4,390.8 104.7,390.0 104.9,389.1 105.2,389.1 105.4,389.1 105.7,391.6 105.9,394.1 106.0,393.2 106.2,391.8 106.4,389.5 106.7,390.1 106.9,390.8 107.2,391.7 107.4,392.5 107.7,392.5 107.9,392.5 108.2,392.0 108.4,391.5 108.7,390.9 108.9,390.3 109.2,392.0 109.4,393.7 109.7,393.3 109.9,392.9 110.2,392.4 110.4,392.0 110.7,392.0 110.9,392.0 111.2,393.1 111.4,394.3 111.7,394.1 111.9,393.9 112.2,393.1 112.4,392.4 112.7,392.3 112.9,392.3 113.2,392.7 113.4,393.2 113.7,391.1 113.9,389.1 114.2,391.8 114.4,394.5 114.7,392.6 114.9,390.7 115.0,391.0 115.2,391.0 115.4,391.1 115.7,391.1 115.9,391.0 116.2,389.9 116.4,388.9 116.7,389.2 116.7,389.3 116.9,388.9 117.2,387.9 117.4,386.9 117.7,384.1 117.9,381.3 118.0,381.0 118.2,379.9 118.4,378.1 118.7,374.9 118.9,371.8 119.2,370.4 119.4,369.0 119.5,368.0 119.7,368.8 119.9,370.2 120.1,371.9 120.2,372.4 120.4,375.0 120.6,377.0 120.7,377.2 120.9,377.8 121.2,378.8 121.2,378.9 121.4,378.6 121.7,378.6 121.9,378.5 122.2,376.4 122.4,374.4 122.5,374.6 122.7,376.2 122.9,378.8 123.2,379.6 123.3,380.0 123.4,380.3 123.7,381.4 123.9,382.5 124.0,382.6 124.2,382.0 124.4,381.1 124.7,381.7 124.8,382.1 124.9,382.2 125.2,383.3 125.4,384.3 125.6,383.3 125.7,383.2 125.9,383.0 126.2,385.2 126.4,387.5 126.7,386.5 126.9,385.5 127.2,385.9 127.3,386.1 127.4,386.1 127.7,387.4 127.9,388.6 128.2,387.9 128.4,387.3 128.7,388.7 128.9,390.1 129.2,390.5 129.4,390.8 129.7,390.6 129.9,390.4 130.1,390.3 130.2,390.3 130.4,389.9 130.7,389.2 130.9,388.5 131.2,389.4 131.4,390.3 131.7,390.2 131.9,390.2 132.2,389.6 132.4,389.0 132.5,389.0 132.7,389.0 132.9,389.0 133.2,388.5 133.4,388.1 133.7,388.5 133.9,389.0 134.2,388.7 134.4,388.5 134.5,388.4 134.7,388.4 134.9,388.4 135.2,389.1 135.4,389.7 135.7,390.0 135.9,390.3 136.2,390.4 136.2,390.4 136.4,390.4 136.7,390.3 136.9,390.2 137.2,390.1 137.4,390.1 137.7,390.9 137.9,391.7 138.2,391.1 138.4,390.4 138.7,391.0 138.9,391.6 139.2,391.1 139.4,390.6 139.7,391.2 139.9,391.9 140.1,390.9 140.2,390.7 140.4,389.8 140.7,390.0 140.9,390.2 141.2,390.7 141.4,391.3 141.7,391.5 141.9,391.7 142.2,391.6 142.4,391.6 142.7,391.9 142.9,392.2 143.2,392.6 143.4,393.0 143.7,392.6 143.9,392.1 144.2,391.2 144.4,390.3 144.7,390.6 144.9,390.9 145.2,392.5 145.4,394.1 145.7,392.6 145.9,391.2 146.2,391.5 146.4,391.9 146.7,391.8 146.9,391.7 147.2,391.7 147.4,391.7 147.7,391.8 147.9,392.0 148.2,392.7 148.4,393.5 148.7,392.8 148.9,392.1 149.2,391.8 149.4,391.5 149.7,391.8 149.9,392.2 150.2,392.5 150.4,392.8 150.7,391.4 150.9,389.9 151.2,392.1 151.4,394.2 151.7,392.3 151.9,390.4 152.2,391.4 152.4,392.4 152.7,393.9 152.9,395.5 153.2,394.3 153.4,393.2 153.7,393.4 153.9,393.6 154.2,393.3 154.4,392.9 154.7,392.3 154.9,391.6 155.2,393.3 155.4,394.9 155.7,395.9 155.9,396.9 156.2,395.0 156.4,393.1 156.7,392.9 156.9,392.6 157.2,392.6 157.4,392.5 157.7,392.5 157.9,392.5 158.2,392.4 158.4,392.3 158.7,393.0 158.9,393.7 159.2,392.6 159.4,391.5 159.7,392.9 159.9,394.3 160.0,393.7 160.2,392.7 160.4,391.2 160.7,390.8 160.9,390.4 161.2,391.0 161.4,391.6 161.7,392.0 161.9,392.3 162.2,392.0 162.4,391.7 162.7,392.0 162.9,392.4 163.2,392.0 163.4,391.5 163.7,391.4 163.9,391.3 164.2,391.4 164.4,391.6 164.7,391.1 164.9,390.6 165.2,390.9 165.4,391.1 165.7,391.3 165.9,391.5 166.2,390.5 166.4,389.5 166.7,391.8 166.9,394.1 167.2,391.7 167.4,389.3 167.7,390.3 167.9,391.3 168.2,391.9 168.4,392.5 168.7,392.3 168.9,392.0 169.2,392.7 169.4,393.4 169.7,392.9 169.9,392.3 170.2,391.8 170.4,391.3 170.7,391.8 170.9,392.4 171.2,392.8 171.4,393.2 171.7,393.5 171.9,393.9 172.2,392.9 172.4,391.8 172.7,392.4 172.9,393.0 173.2,392.6 173.4,392.1 173.7,391.2 173.9,390.3 174.2,389.8 174.4,389.2 174.7,390.0 174.9,390.9 175.2,390.7 175.4,390.4 175.7,389.6 175.9,388.7 176.2,390.4 176.4,392.0 176.7,392.4 176.9,392.8 177.2,392.8 177.4,392.9 177.7,391.5 177.9,390.0 178.2,390.3 178.4,390.7 178.7,390.2 178.9,389.8 179.2,390.6 179.4,391.4 179.7,391.3 179.9,391.3 180.0,391.3 180.2,391.3 180.4,391.4 180.7,391.1 180.9,390.9 181.2,391.9 181.4,392.9 181.7,392.2 181.9,391.4 182.2,391.2 182.4,391.1 182.7,391.1 182.9,391.1 183.2,392.1 183.4,393.1 183.7,391.8 183.9,390.5 184.2,391.0 184.4,391.6 184.7,390.5 184.9,389.5 185.2,390.6 185.4,391.7 185.7,391.1 185.9,390.5 186.2,389.2 186.4,388.0 186.7,389.7 186.9,391.5 187.2,389.8 187.4,388.2 187.7,388.3 187.9,388.4 188.2,389.8 188.4,391.2 188.7,390.6 188.9,389.9 189.2,389.4 189.4,388.8 189.7,388.2 189.9,387.7 190.2,387.2 190.4,386.8 190.7,386.6 190.9,386.4 191.2,385.8 191.4,385.2 191.7,384.7 191.7,384.6 191.9,383.1 192.2,382.9 192.4,382.6 192.7,380.1 192.9,377.7 193.0,377.4 193.2,374.6 193.4,369.9 193.7,364.5 193.7,363.4 193.9,359.5 194.2,354.0 194.2,352.9 194.4,356.5 194.7,361.3 194.8,364.2 194.9,366.7 195.2,372.0 195.4,377.4 195.7,379.2 195.9,381.1 196.2,382.7 196.4,384.4 196.7,386.0 196.9,387.6 197.2,390.0 197.4,392.4 197.5,392.5 197.7,391.6 197.9,390.0 198.2,391.1 198.4,392.1 198.7,392.1 198.9,392.2 199.2,391.6 199.4,391.0 199.7,391.0 199.9,391.1 200.2,388.5 200.4,385.9 200.7,387.4 200.9,388.8 201.2,388.9 201.4,389.0 201.7,388.8 201.9,388.5 202.2,388.6 202.4,388.7 202.7,388.1 202.9,387.5 203.2,387.2 203.4,386.9 203.7,386.9 203.9,386.9 204.2,387.5 204.4,388.0 204.7,386.5 204.9,385.0 205.1,385.3 205.2,385.4 205.4,386.0 205.7,387.4 205.9,388.9 206.2,387.8 206.4,386.6 206.7,386.9 206.7,387.0 206.9,385.7 207.2,383.1 207.4,380.6 207.7,378.6 207.9,376.6 208.1,376.1 208.2,374.9 208.4,368.8 208.7,360.0 208.9,351.3 209.2,343.8 209.4,336.4 209.7,344.5 209.9,352.5 210.2,359.6 210.4,366.6 210.6,372.3 210.7,372.4 210.9,373.2 211.2,374.2 211.4,375.3 211.7,371.7 211.9,368.1 212.2,366.0 212.4,363.9 212.7,363.3 212.9,362.6 213.1,360.9 213.2,361.2 213.4,362.5 213.7,364.1 213.9,365.8 214.2,368.5 214.4,371.2 214.7,373.3 214.7,373.7 214.9,374.3 215.2,374.7 215.4,375.1 215.7,375.0 215.9,374.9 216.2,375.7 216.4,376.4 216.7,378.8 216.9,381.2 217.2,380.7 217.4,380.3 217.6,381.2 217.7,381.3 217.9,382.0 218.2,382.6 218.4,383.2 218.7,384.0 218.9,384.8 219.2,385.3 219.4,385.9 219.7,386.8 219.9,387.6 220.1,387.6 220.2,387.4 220.4,386.7 220.7,387.3 220.9,387.9 221.2,388.0 221.4,388.1 221.7,387.9 221.9,387.6 222.0,387.4 222.2,387.1 222.4,386.5 222.7,386.1 222.9,385.6 223.2,386.8 223.4,387.9 223.7,386.7 223.8,386.0 223.9,385.8 224.2,387.5 224.4,389.1 224.7,390.0 224.9,390.9 225.2,389.1 225.3,387.9 225.4,387.2 225.7,389.7 225.9,392.1 226.2,392.5 226.4,392.8 226.7,392.4 226.8,392.2 226.9,391.8 227.2,392.7 227.4,393.6 227.7,393.6 227.9,393.5 228.2,393.1 228.4,392.8 228.7,393.0 228.9,393.2 229.2,392.6 229.4,391.9 229.5,391.9 229.7,391.8 229.9,391.7 230.2,392.6 230.4,393.6 230.7,392.6 230.9,391.6 231.2,390.6 231.4,389.5 231.7,388.5 231.8,387.9 231.9,387.7 232.2,388.9 232.4,390.1 232.7,389.8 232.9,389.5 233.2,390.0 233.4,390.6 233.7,391.7 233.9,392.8 234.0,392.7 234.2,392.4 234.4,391.8 234.7,391.9 234.9,391.9 235.2,392.1 235.4,392.4 235.7,393.9 235.9,395.3 236.2,395.3 236.4,395.2 236.7,394.4 236.8,393.9 236.9,393.5 237.2,393.1 237.4,392.7 237.7,393.2 237.9,393.7 238.2,392.6 238.4,391.5 238.7,391.4 238.9,391.3 239.2,392.1 239.4,392.8 239.7,392.4 239.9,392.0 240.2,392.1 240.4,392.3 240.7,392.5 240.9,392.8 241.2,392.7 241.4,392.7 241.7,393.1 241.9,393.4 242.2,392.5 242.4,391.5 242.7,392.1 242.9,392.7 243.2,392.8 243.4,392.8 243.7,393.6 243.9,394.4 244.2,393.5 244.4,392.5 244.7,391.7 244.9,391.0 245.2,390.2 245.4,389.4 245.7,390.6 245.9,391.7 246.2,390.9 246.4,390.1 246.7,390.9 246.8,391.4 246.9,391.8 247.2,391.9 247.4,392.0 247.7,390.8 247.9,389.5 248.2,390.9 248.4,392.3 248.7,392.5 248.9,392.7 249.2,391.6 249.4,390.6 249.7,391.1 249.9,391.6 250.2,391.2 250.4,390.8 250.7,388.8 250.9,386.7 251.2,388.8 251.4,390.8 251.7,391.6 251.9,392.3 252.2,392.1 252.4,391.9 252.7,392.4 252.9,392.9 253.2,391.7 253.4,390.4 253.7,390.9 253.9,391.4 254.2,391.1 254.4,390.8 254.7,391.1 254.9,391.3 255.2,391.3 255.4,391.2 255.7,391.7 255.9,392.2 256.1,392.4 256.4,392.5 256.6,392.5 256.9,392.6 257.1,392.0 257.4,391.4 257.6,391.9 257.9,392.5 258.1,391.8 258.4,391.1 258.6,391.7 258.9,392.2 259.1,393.0 259.4,393.8 259.6,394.6 259.9,395.4 260.1,394.0 260.4,392.6 260.6,391.6 260.9,390.6 261.1,391.6 261.4,392.6 261.6,393.6 261.9,394.5 262.1,394.3 262.4,394.1 262.6,393.5 262.9,392.8 263.1,392.6 263.4,392.4 263.6,392.2 263.9,391.9 264.1,391.3 264.4,390.6 264.6,391.2 264.9,391.8 265.1,391.4 265.4,391.0 265.6,392.2 265.9,393.4 266.1,393.4 266.4,393.3 266.6,392.6 266.9,391.9 267.1,391.5 267.4,391.2 267.6,391.1 267.9,391.1 268.1,391.5 268.4,392.0 268.6,392.5 268.9,393.1 269.1,392.7 269.4,392.4 269.6,390.6 269.9,388.7 270.1,390.1 270.4,391.5 270.6,393.0 270.9,394.6 271.1,393.4 271.4,392.3 271.6,392.4 271.9,392.4 272.1,392.5 272.4,392.5 272.6,391.8 272.9,391.1 273.1,389.3 273.4,387.5 273.6,390.3 273.7,390.9" fill="none" stroke="#f04a23" stroke-width="1.5" stroke-linejoin="round" stroke-linecap="round"/>
<path d="M49.2,396.3 L56.6,404.1 Q66.9,414.7 76.5,404.6 L83.4,397.4" fill="none" stroke="#787878" stroke-width="1.15" stroke-dasharray="3,2.3"/>
<path d="M113.8,397.5 L119.7,404.3 Q127.8,413.6 136.2,404.5 L142.3,398.0 L148.7,405.2 Q157.5,415.0 165.2,405.6 L170.8,399.0" fill="none" stroke="#787878" stroke-width="1.15" stroke-dasharray="3,2.3"/>
<path d="M200.8,396.9 L208.5,404.8 Q219.2,415.5 229.4,405.3 L236.8,398.1" fill="none" stroke="#787878" stroke-width="1.15" stroke-dasharray="3,2.3"/>
<path d="M30.4,413.9H274.2" stroke="#333333" stroke-width="1.15" fill="none"/>
<path d="M30.9,413.9V417.8M57.9,413.9V417.8M84.9,413.9V417.8M111.8,413.9V417.8M138.8,413.9V417.8M165.8,413.9V417.8M192.8,413.9V417.8M219.7,413.9V417.8M246.7,413.9V417.8M273.7,413.9V417.8" stroke="#333333" stroke-width="1.1" fill="none"/>
<text transform="translate(30.9 426.3) scale(1 1.15)" class="tk" font-size="8">178</text>
<text transform="translate(57.9 426.3) scale(1 1.15)" class="tk" font-size="8">177</text>
<text transform="translate(84.9 426.3) scale(1 1.15)" class="tk" font-size="8">176</text>
<text transform="translate(111.8 426.3) scale(1 1.15)" class="tk" font-size="8">175</text>
<text transform="translate(138.8 426.3) scale(1 1.15)" class="tk" font-size="8">174</text>
<text transform="translate(165.8 426.3) scale(1 1.15)" class="tk" font-size="8">173</text>
<text transform="translate(192.8 426.3) scale(1 1.15)" class="tk" font-size="8">172</text>
<text transform="translate(219.7 426.3) scale(1 1.15)" class="tk" font-size="8">171</text>
<text transform="translate(246.7 426.3) scale(1 1.15)" class="tk" font-size="8">170</text>
<text transform="translate(273.7 426.3) scale(1 1.15)" class="tk" font-size="8">169</text>
<polyline points="291.3,152.2 291.6,150.1 291.8,148.1 292.1,147.3 292.3,146.6 292.6,147.2 292.8,147.9 293.1,150.5 293.3,153.1 293.6,151.8 293.8,150.5 294.1,150.4 294.3,150.3 294.6,150.8 294.8,151.2 295.1,150.1 295.3,149.0 295.6,149.6 295.8,150.1 296.1,149.4 296.3,148.7 296.6,150.0 296.8,151.3 297.1,150.1 297.3,149.0 297.6,150.0 297.8,150.9 298.1,151.4 298.3,151.9 298.6,151.1 298.8,150.2 299.1,150.9 299.3,151.6 299.6,150.1 299.8,148.6 300.1,148.7 300.3,148.7 300.6,149.7 300.8,150.7 301.1,150.4 301.3,150.1 301.6,149.2 301.8,148.4 302.1,149.0 302.3,149.7 302.6,150.9 302.8,152.1 303.1,150.8 303.3,149.4 303.6,149.9 303.8,150.5 304.1,150.1 304.3,149.8 304.6,150.3 304.8,150.7 305.1,150.8 305.3,150.9 305.6,151.1 305.8,151.3 306.1,151.2 306.3,151.2 306.6,151.4 306.8,151.6 307.1,151.3 307.3,151.0 307.6,150.9 307.8,150.7 308.1,150.2 308.3,149.7 308.6,147.8 308.8,145.9 309.1,147.9 309.3,149.8 309.6,149.1 309.8,148.3 310.0,148.7 310.1,148.8 310.3,149.4 310.6,148.6 310.8,147.8 311.1,149.6 311.3,151.4 311.6,149.5 311.8,147.6 312.1,149.4 312.3,151.3 312.6,150.6 312.8,149.8 313.1,150.3 313.3,150.8 313.6,151.1 313.8,151.4 314.1,152.2 314.3,153.0 314.6,152.5 314.8,152.0 315.1,151.8 315.3,151.5 315.6,151.8 315.8,152.0 316.1,151.0 316.3,150.0 316.6,150.0 316.8,150.0 317.1,149.6 317.3,149.1 317.6,149.7 317.8,150.2 318.1,150.8 318.3,151.4 318.6,150.5 318.8,149.7 319.1,149.7 319.3,149.7 319.6,149.2 319.8,148.7 320.1,150.3 320.3,151.9 320.6,150.8 320.8,149.6 321.1,150.0 321.3,150.3 321.6,149.8 321.7,149.4 321.8,148.8 322.1,148.4 322.3,148.0 322.6,145.4 322.8,142.9 323.1,134.0 323.3,125.2 323.6,115.7 323.7,110.0 323.8,113.6 324.1,125.3 324.1,127.7 324.3,133.7 324.6,137.9 324.7,140.4 324.8,140.9 325.1,142.7 325.3,144.4 325.6,142.7 325.8,141.0 326.1,139.5 326.3,138.0 326.4,137.9 326.6,139.2 326.8,141.3 327.1,141.4 327.3,141.6 327.5,143.8 327.6,143.9 327.8,144.8 328.1,141.9 328.3,138.9 328.4,138.7 328.6,139.4 328.8,140.7 329.1,141.4 329.1,141.5 329.3,140.1 329.6,138.2 329.8,136.3 330.0,136.2 330.1,136.7 330.3,139.3 330.6,139.7 330.8,140.1 331.1,143.5 331.1,144.1 331.3,146.4 331.6,145.7 331.8,145.0 332.1,143.3 332.3,141.5 332.4,142.6 332.6,143.7 332.8,145.6 333.1,146.3 333.3,147.0 333.6,147.9 333.8,148.9 334.1,147.7 334.3,146.5 334.6,146.7 334.8,146.9 335.1,146.1 335.1,146.0 335.3,145.5 335.6,147.9 335.8,150.2 336.1,146.7 336.3,143.3 336.6,146.7 336.8,150.2 337.1,150.3 337.3,150.4 337.6,151.0 337.8,151.6 338.1,151.8 338.3,152.0 338.6,152.3 338.8,152.6 339.1,151.8 339.3,151.0 339.6,149.7 339.8,148.4 340.1,150.8 340.3,153.2 340.6,151.5 340.8,149.9 341.1,151.0 341.3,152.1 341.6,151.2 341.8,150.3 342.1,151.0 342.3,151.8 342.6,151.2 342.8,150.5 343.1,150.2 343.3,149.9 343.6,150.9 343.8,151.8 344.1,149.3 344.3,146.8 344.6,148.3 344.8,149.9 345.0,150.1 345.1,150.1 345.3,150.4 345.6,150.6 345.8,150.9 346.1,150.2 346.3,149.5 346.6,148.5 346.8,147.5 347.1,149.2 347.3,150.8 347.6,149.7 347.8,148.6 348.1,150.3 348.3,151.9 348.6,151.4 348.8,150.9 349.1,150.6 349.3,150.3 349.6,151.4 349.8,152.5 350.1,152.3 350.3,152.0 350.6,150.4 350.8,148.8 351.1,148.3 351.3,147.7 351.6,150.0 351.8,152.3 352.1,153.0 352.3,153.6 352.6,151.5 352.8,149.3 353.1,150.0 353.3,150.8 353.6,149.8 353.8,148.9 354.1,149.1 354.3,149.4 354.6,152.0 354.8,154.6 355.1,152.8 355.3,151.0 355.6,150.7 355.8,150.5 356.1,150.5 356.3,150.6 356.6,149.5 356.8,148.5 357.1,149.7 357.3,150.9 357.6,152.0 357.8,153.1 358.1,152.8 358.3,152.5 358.6,151.1 358.8,149.6 359.1,149.4 359.3,149.1 359.6,150.2 359.8,151.3 360.1,150.9 360.3,150.4 360.6,150.3 360.8,150.2 361.1,149.7 361.3,149.3 361.6,150.9 361.8,152.5 362.1,151.5 362.3,150.5 362.6,150.4 362.8,150.3 363.1,150.4 363.3,150.4 363.6,150.7 363.8,151.0 364.1,149.9 364.3,148.9 364.6,148.9 364.8,148.8 365.1,146.3 365.3,143.7 365.6,147.3 365.8,150.8 366.1,152.0 366.3,153.1 366.6,152.5 366.8,151.9 367.1,151.1 367.3,150.3 367.6,149.5 367.8,148.7 368.1,149.0 368.3,149.4 368.6,149.4 368.8,149.4 369.1,150.1 369.3,150.9 369.6,150.4 369.8,150.0 370.0,150.4 370.1,150.5 370.3,151.0 370.6,150.3 370.8,149.6 371.1,148.1 371.3,146.6 371.6,149.6 371.8,152.6 372.1,150.3 372.3,148.1 372.6,148.1 372.8,148.2 373.1,148.5 373.3,148.8 373.6,148.9 373.8,149.0 374.1,150.0 374.3,150.9 374.6,150.6 374.8,150.3 375.1,149.6 375.3,149.0 375.6,149.6 375.8,150.3 376.0,151.3 376.1,151.5 376.3,152.7 376.6,151.2 376.8,149.8 377.1,149.5 377.3,149.3 377.6,149.6 377.8,149.8 378.1,148.5 378.3,147.3 378.6,149.8 378.8,152.4 379.1,151.4 379.3,150.3 379.6,148.7 379.8,147.1 380.0,147.6 380.1,147.8 380.3,148.6 380.6,146.6 380.8,144.6 381.1,146.3 381.3,148.0 381.6,147.7 381.8,147.4 382.1,147.7 382.3,147.9 382.6,147.1 382.8,146.3 383.1,147.5 383.3,148.7 383.6,146.6 383.8,144.6 384.1,146.6 384.3,148.7 384.6,147.5 384.8,146.2 385.0,145.4 385.1,145.2 385.3,144.2 385.6,145.2 385.8,146.2 386.1,147.9 386.3,149.6 386.6,147.2 386.8,144.8 387.1,145.2 387.3,145.7 387.6,146.8 387.8,147.8 388.1,146.9 388.3,146.0 388.6,146.5 388.8,146.9 389.1,146.7 389.3,146.5 389.6,147.6 389.8,148.7 390.0,148.2 390.1,148.1 390.3,147.5 390.6,148.7 390.8,149.8 391.1,147.9 391.3,145.9 391.6,148.2 391.8,150.5 392.1,150.1 392.3,149.7 392.6,149.4 392.8,149.1 393.1,149.3 393.3,149.5 393.6,149.0 393.8,148.4 394.1,148.2 394.3,147.9 394.6,150.0 394.8,152.0 395.0,151.0 395.1,150.7 395.3,149.4 395.6,148.7 395.8,148.0 396.1,149.2 396.3,150.4 396.6,150.3 396.8,150.2 397.1,150.7 397.3,151.1 397.6,150.2 397.8,149.3 398.1,149.1 398.3,148.8 398.6,148.7 398.8,148.6 399.1,148.6 399.3,148.7 399.6,150.0 399.8,151.3 400.0,151.2 400.1,151.2 400.3,151.0 400.6,151.3 400.8,151.6 401.1,151.3 401.3,151.0 401.6,150.3 401.8,149.6 402.1,151.6 402.3,153.7 402.6,151.9 402.8,150.0 403.1,148.9 403.3,147.7 403.6,149.6 403.8,151.5 404.1,150.6 404.3,149.7 404.6,149.8 404.8,149.8 405.1,149.9 405.3,149.9 405.6,150.3 405.8,150.7 406.1,149.6 406.3,148.5 406.6,149.0 406.8,149.6 407.1,149.9 407.3,150.2 407.6,151.1 407.8,152.1 408.1,150.5 408.3,148.9 408.6,149.1 408.8,149.3 409.1,150.6 409.3,151.8 409.6,151.4 409.8,151.0 410.1,150.7 410.3,150.3 410.4,150.1 410.6,149.1 410.8,147.6 411.1,148.0 411.3,148.4 411.6,146.7 411.7,145.7 411.8,143.3 412.1,138.2 412.3,133.1 412.6,127.9 412.6,126.8 412.8,111.2 413.1,91.8 413.2,80.1 413.3,69.9 413.6,45.0 413.7,30.0 413.8,43.0 414.1,74.0 414.1,80.2 414.3,101.6 414.5,122.4 414.6,121.9 414.8,119.4 415.1,119.8 415.3,120.3 415.5,119.6 415.6,120.3 415.8,123.5 416.1,126.6 416.3,129.7 416.4,130.6 416.6,131.1 416.8,132.0 417.1,133.0 417.1,133.2 417.3,132.2 417.6,132.8 417.8,133.4 418.0,133.0 418.1,133.2 418.3,134.3 418.6,133.4 418.8,132.6 419.1,134.5 419.1,134.8 419.3,136.7 419.6,137.6 419.8,138.6 420.1,140.6 420.3,142.7 420.4,143.0 420.6,143.1 420.8,143.2 421.1,142.9 421.3,142.7 421.6,145.2 421.8,147.7 422.1,147.8 422.3,147.9 422.4,147.9 422.6,147.7 422.8,147.4 423.1,147.3 423.3,147.2 423.6,147.4 423.8,147.6 424.1,148.6 424.3,149.6 424.4,149.2 424.6,148.6 424.8,147.5 425.1,150.2 425.3,152.9 425.6,151.3 425.8,149.6 426.1,150.2 426.3,150.8 426.6,150.6 426.8,150.5 427.1,151.1 427.1,151.3 427.3,151.7 427.6,152.1 427.8,152.4 428.1,149.8 428.3,147.2 428.6,149.6 428.8,152.0 429.1,151.4 429.3,150.8 429.6,151.6 429.8,152.5 430.1,151.9 430.3,151.4 430.6,150.0 430.8,148.5 431.1,148.7 431.3,148.9 431.6,150.7 431.8,152.4 432.1,152.1 432.3,151.8 432.6,151.0 432.8,150.1 433.1,150.8 433.3,151.4 433.6,150.5 433.8,149.5 434.0,150.4 434.1,150.6 434.3,151.7 434.6,150.7 434.8,149.7 435.1,149.2 435.3,148.7 435.6,149.3 435.8,149.9 436.1,149.5 436.3,149.1 436.6,149.5 436.8,149.9 437.1,149.2 437.3,148.4 437.6,148.5 437.8,148.7 438.1,150.7 438.3,152.7 438.6,151.7 438.8,150.7 439.1,149.9 439.3,149.1 439.6,149.6 439.8,150.1 440.1,149.2 440.3,148.4 440.6,150.4 440.8,152.5 441.0,151.6 441.1,151.4 441.3,150.2 441.6,151.0 441.8,151.9 442.1,151.9 442.3,151.8 442.6,151.7 442.8,151.6 443.1,151.6 443.3,151.6 443.6,151.7 443.8,151.8 444.1,153.7 444.3,155.6 444.6,153.3 444.8,151.0 445.1,151.1 445.3,151.1 445.6,149.3 445.8,147.5 446.1,148.5 446.3,149.5 446.6,149.1 446.8,148.7 447.1,149.8 447.3,150.8 447.6,151.1 447.8,151.4 448.1,151.3 448.3,151.2 448.6,149.8 448.8,148.4 449.1,150.3 449.3,152.2 449.6,151.7 449.8,151.3 450.1,150.8 450.3,150.4 450.6,149.6 450.8,148.7 451.1,149.7 451.3,150.6 451.6,150.8 451.8,151.1 452.1,151.6 452.3,152.0 452.6,150.6 452.8,149.3 453.1,149.6 453.3,149.9 453.6,149.6 453.8,149.3 454.1,150.1 454.3,150.9 454.6,150.6 454.8,150.2 455.1,150.3 455.3,150.3 455.6,149.9 455.8,149.5 456.1,150.6 456.3,151.7 456.6,151.8 456.8,151.8 457.1,151.7 457.3,151.5 457.6,149.8 457.8,148.1 458.1,149.5 458.3,150.9 458.6,151.2 458.8,151.4 459.1,151.0 459.3,150.5 459.6,150.8 459.8,151.1 460.0,151.5 460.1,151.6 460.3,152.1 460.6,151.7 460.8,151.3 461.1,151.6 461.3,151.9 461.6,153.3 461.8,154.8 462.1,153.3 462.3,151.8 462.6,151.3 462.8,150.7 463.1,150.7 463.3,150.7 463.6,150.6 463.8,150.5 464.1,150.8 464.3,151.2 464.6,150.7 464.8,150.3 465.1,150.5 465.3,150.8 465.6,150.2 465.8,149.5 466.1,149.5 466.3,149.4 466.6,150.0 466.8,150.6 467.1,149.9 467.3,149.2 467.6,148.9 467.8,148.6 468.1,149.0 468.3,149.4 468.6,149.7 468.8,150.0 469.0,149.5 469.1,149.3 469.3,148.4 469.6,149.7 469.8,151.0 470.1,149.5 470.3,148.0 470.6,147.1 470.8,146.2 471.1,148.6 471.3,151.0 471.6,148.6 471.8,146.1 472.1,147.4 472.3,148.7 472.6,147.6 472.8,146.5 473.1,145.9 473.3,145.3 473.6,143.9 473.8,142.6 474.1,142.8 474.3,142.9 474.6,141.7 474.8,140.6 475.1,141.2 475.3,141.8 475.4,141.4 475.6,140.0 475.8,137.8 476.1,136.3 476.1,136.0 476.3,134.6 476.6,134.3 476.6,134.2 476.8,137.4 477.1,137.5 477.1,137.5 477.3,137.4 477.6,139.5 477.7,140.7 477.8,140.8 478.1,141.8 478.3,142.7 478.6,143.9 478.8,145.0 478.9,145.5 479.1,145.7 479.3,146.0 479.6,143.9 479.8,141.9 480.1,142.3 480.3,142.8 480.5,141.4 480.6,141.1 480.8,139.5 481.1,139.6 481.3,139.7 481.6,138.0 481.8,136.2 482.0,136.1 482.1,136.3 482.3,137.3 482.6,139.6 482.8,141.9 483.1,142.6 483.2,143.1 483.3,143.4 483.6,144.1 483.8,144.8 484.1,145.2 484.3,145.6 484.6,143.7 484.8,141.8 485.1,143.6 485.3,145.4 485.6,145.3 485.8,145.1 486.1,146.5 486.3,148.0 486.6,148.2 486.8,148.4 487.1,149.1 487.3,149.7 487.6,150.0 487.8,150.3 488.1,149.8 488.3,149.3 488.6,148.6 488.8,147.8 489.1,148.6 489.3,149.3 489.4,148.7 489.6,147.7 489.8,146.1 490.1,146.9 490.3,147.7 490.6,146.4 490.8,145.1 491.1,145.6 491.3,146.2 491.5,146.4 491.6,146.5 491.8,146.7 492.1,146.2 492.3,145.7 492.6,144.4 492.8,143.0 493.1,143.4 493.2,143.6 493.3,144.2 493.6,145.3 493.8,146.5 494.1,147.1 494.2,147.4 494.3,147.6 494.6,149.4 494.8,151.3 495.1,150.5 495.1,150.3 495.3,149.4 495.6,149.6 495.8,149.7 496.1,148.5 496.3,147.4 496.6,148.6 496.8,149.8 497.1,149.5 497.3,149.3 497.6,151.6 497.6,152.1 497.8,153.7 498.1,152.4 498.3,151.0 498.6,150.2 498.8,149.4 499.1,150.3 499.3,151.3 499.6,151.2 499.8,151.1 500.1,151.6 500.3,152.0 500.6,151.8 500.8,151.6 501.1,151.7 501.3,151.8 501.6,151.3 501.8,150.8 502.1,151.0 502.3,151.3 502.6,149.7 502.8,148.2 503.1,148.3 503.3,148.3 503.6,149.3 503.8,150.2 504.1,150.1 504.3,150.1 504.6,149.2 504.8,148.4 505.0,149.9 505.1,150.2 505.3,152.1 505.6,151.4 505.8,150.6 506.1,150.2 506.3,149.8 506.6,150.4 506.8,150.9 507.1,151.2 507.3,151.6 507.6,149.8 507.8,148.0 508.1,150.3 508.3,152.5 508.6,151.6 508.8,150.8 509.1,151.1 509.3,151.4 509.6,151.4 509.8,151.4 510.1,150.2 510.3,148.9 510.6,150.5 510.8,152.2 511.1,152.0 511.3,151.8 511.6,152.2 511.8,152.5 512.0,150.8 512.3,149.0 512.5,150.2 512.8,151.3 513.0,149.8 513.3,148.4 513.5,148.6 513.8,148.9 514.0,150.6 514.3,152.3 514.5,150.9 514.8,149.5 515.0,150.3 515.3,151.1 515.5,150.7 515.8,150.2 516.0,151.0 516.3,151.8 516.5,150.8 516.8,149.8 517.0,150.4 517.3,151.1 517.5,151.4 517.8,151.6 518.0,149.0 518.3,146.3 518.5,148.2 518.8,150.2 519.0,149.4 519.3,148.6 519.5,150.7 519.8,152.7 520.0,152.2 520.3,151.6 520.5,151.1 520.8,150.6 521.0,151.1 521.3,151.7 521.5,151.3 521.8,151.0 522.0,150.2 522.3,149.5 522.5,151.1 522.8,152.7 523.0,152.9 523.3,153.1 523.5,153.1 523.8,153.1 524.0,152.5 524.3,152.0 524.5,151.2 524.8,150.5 525.0,150.2 525.3,149.8 525.5,150.8 525.8,151.7 526.0,150.3 526.3,148.8 526.5,149.6 526.8,150.4 527.0,150.2 527.3,150.0 527.5,149.5 527.8,149.0 528.0,150.1 528.3,151.3 528.5,150.8 528.8,150.3 529.0,150.3 529.3,150.2 529.5,151.5 529.8,152.9 530.0,151.2 530.3,149.6 530.5,149.3 530.8,148.9 531.0,149.1 531.3,149.4 531.5,150.2 531.8,151.0 532.0,151.7 532.3,152.3 532.5,151.5 532.8,150.6 533.0,149.7 533.3,148.9 533.5,148.4 533.8,147.9 534.0,148.9 534.3,149.8 534.5,151.2 534.8,152.5 535.0,151.7 535.3,150.9 535.5,150.0 535.8,149.1 536.0,150.0 536.3,150.8 536.4,150.5" fill="none" stroke="#178a8a" stroke-width="1.5" stroke-linejoin="round" stroke-linecap="round"/>
<path d="M309.5,155.6 L316.8,163.0 Q326.9,173.1 337.7,163.2 L345.6,156.1" fill="none" stroke="#787878" stroke-width="1.15" stroke-dasharray="3,2.3"/>
<path d="M375.0,155.1 L380.6,162.4 Q388.4,172.1 397.0,163.1 L403.3,156.9 L409.7,163.8 Q418.5,172.9 426.2,164.4 L431.8,158.5" fill="none" stroke="#787878" stroke-width="1.15" stroke-dasharray="3,2.3"/>
<path d="M463.4,156.9 L470.4,164.2 Q480.0,174.0 490.4,164.6 L497.9,158.0" fill="none" stroke="#787878" stroke-width="1.15" stroke-dasharray="3,2.3"/>
<path d="M290.8,172.4H536.9" stroke="#333333" stroke-width="1.15" fill="none"/>
<path d="M291.3,172.4V176.3M318.5,172.4V176.3M345.8,172.4V176.3M373.0,172.4V176.3M400.2,172.4V176.3M427.5,172.4V176.3M454.7,172.4V176.3M481.9,172.4V176.3M509.2,172.4V176.3M536.4,172.4V176.3" stroke="#333333" stroke-width="1.1" fill="none"/>
<text transform="translate(291.3 185.2) scale(1 1.15)" class="tk" font-size="8">178</text>
<text transform="translate(318.5 185.2) scale(1 1.15)" class="tk" font-size="8">177</text>
<text transform="translate(345.8 185.2) scale(1 1.15)" class="tk" font-size="8">176</text>
<text transform="translate(373.0 185.2) scale(1 1.15)" class="tk" font-size="8">175</text>
<text transform="translate(400.2 185.2) scale(1 1.15)" class="tk" font-size="8">174</text>
<text transform="translate(427.5 185.2) scale(1 1.15)" class="tk" font-size="8">173</text>
<text transform="translate(454.7 185.2) scale(1 1.15)" class="tk" font-size="8">172</text>
<text transform="translate(481.9 185.2) scale(1 1.15)" class="tk" font-size="8">171</text>
<text transform="translate(509.2 185.2) scale(1 1.15)" class="tk" font-size="8">170</text>
<text transform="translate(536.4 185.2) scale(1 1.15)" class="tk" font-size="8">169</text>
<polyline points="288.8,270.6 289.1,271.7 289.3,272.8 289.6,272.8 289.8,272.8 290.1,272.6 290.3,272.4 290.6,272.5 290.8,272.6 291.1,272.7 291.3,272.8 291.6,273.0 291.8,273.1 292.1,272.8 292.3,272.4 292.6,273.4 292.8,274.4 293.1,273.1 293.3,271.9 293.6,272.7 293.8,273.6 294.1,272.5 294.3,271.4 294.6,271.7 294.8,272.1 295.1,272.8 295.3,273.4 295.6,273.1 295.8,272.8 296.1,272.9 296.3,273.0 296.6,273.1 296.8,273.1 297.1,273.1 297.3,273.0 297.6,272.4 297.8,271.8 298.1,271.9 298.3,272.0 298.6,272.3 298.8,272.5 299.1,272.6 299.3,272.8 299.6,272.8 299.8,272.8 300.1,272.6 300.3,272.4 300.6,272.4 300.8,272.4 301.1,272.9 301.3,273.5 301.6,273.1 301.8,272.7 302.1,272.9 302.3,273.1 302.6,272.8 302.8,272.5 303.1,272.4 303.3,272.3 303.6,272.6 303.8,272.8 304.1,273.0 304.3,273.2 304.6,273.3 304.8,273.3 305.1,273.1 305.3,272.9 305.6,272.3 305.8,271.8 306.1,272.4 306.3,273.1 306.6,272.4 306.8,271.7 307.1,271.8 307.3,271.9 307.6,272.1 307.8,272.2 308.1,272.2 308.3,272.1 308.6,272.6 308.8,273.1 309.1,273.0 309.3,272.9 309.6,273.1 309.8,273.3 310.0,272.8 310.1,272.7 310.3,272.1 310.6,272.4 310.8,272.6 311.1,272.9 311.3,273.2 311.6,272.4 311.8,271.6 312.1,271.8 312.3,272.0 312.6,272.0 312.8,271.9 313.1,271.7 313.3,271.6 313.6,272.0 313.8,272.3 314.1,272.4 314.3,272.5 314.6,272.4 314.8,272.3 315.1,272.2 315.3,272.0 315.6,272.4 315.8,272.8 316.1,271.9 316.3,271.0 316.6,271.4 316.8,271.7 317.1,272.1 317.3,272.5 317.6,272.2 317.8,272.0 318.1,271.3 318.3,270.6 318.6,272.4 318.8,274.1 319.1,273.1 319.3,272.0 319.5,271.9 319.6,271.8 319.8,271.3 320.1,270.1 320.3,269.0 320.6,268.7 320.8,268.5 321.1,268.5 321.3,268.6 321.4,268.3 321.6,265.7 321.8,261.4 322.0,258.1 322.1,257.1 322.3,252.1 322.5,248.3 322.6,249.4 322.8,254.5 322.9,256.2 323.1,257.7 323.3,260.2 323.4,261.7 323.6,260.4 323.8,258.4 324.0,256.1 324.1,255.6 324.3,252.9 324.5,251.2 324.6,252.0 324.8,255.9 325.0,258.4 325.1,258.8 325.3,260.9 325.6,263.3 325.7,264.7 325.8,264.2 326.1,262.8 326.3,261.5 326.6,260.7 326.8,259.8 327.1,258.2 327.3,256.5 327.6,256.5 327.7,256.5 327.8,257.3 328.1,257.8 328.3,258.3 328.6,259.5 328.6,259.7 328.8,260.6 329.1,260.6 329.3,260.6 329.5,261.4 329.6,261.6 329.8,262.3 330.1,264.0 330.3,265.8 330.6,265.3 330.8,264.8 331.1,265.4 331.3,266.0 331.4,266.0 331.6,265.9 331.8,265.7 332.1,266.0 332.3,266.2 332.6,266.8 332.8,267.4 333.1,268.8 333.3,270.2 333.6,270.4 333.8,270.6 334.1,270.4 334.1,270.4 334.3,270.0 334.6,270.3 334.8,270.5 335.1,270.8 335.3,271.1 335.6,270.5 335.8,269.9 336.1,270.8 336.3,271.7 336.6,272.0 336.8,272.4 337.1,272.5 337.3,272.7 337.6,272.6 337.7,272.5 337.8,272.4 338.1,272.1 338.3,271.8 338.6,272.1 338.8,272.4 339.1,272.3 339.3,272.1 339.6,271.9 339.8,271.6 340.1,271.8 340.3,272.1 340.6,272.1 340.8,272.1 341.1,273.0 341.3,273.8 341.6,272.7 341.8,271.7 342.1,272.0 342.3,272.4 342.6,272.3 342.8,272.3 343.1,272.1 343.3,271.9 343.6,272.3 343.8,272.7 344.1,272.1 344.3,271.6 344.6,271.9 344.8,272.1 345.1,272.3 345.3,272.5 345.6,272.6 345.8,272.7 346.1,273.2 346.3,273.7 346.6,273.4 346.8,273.1 347.1,272.3 347.3,271.4 347.6,272.6 347.8,273.7 348.1,273.0 348.3,272.3 348.6,273.9 348.8,275.4 349.1,275.0 349.3,274.5 349.6,273.3 349.8,272.1 350.0,272.3 350.1,272.3 350.3,272.5 350.6,272.7 350.8,272.9 351.1,273.4 351.3,273.9 351.6,273.4 351.8,273.0 352.1,272.6 352.3,272.3 352.6,272.5 352.8,272.7 353.1,272.6 353.3,272.5 353.6,272.6 353.8,272.6 354.1,272.8 354.3,273.0 354.6,273.1 354.8,273.2 355.1,273.1 355.3,273.0 355.6,272.4 355.8,271.9 356.1,272.0 356.3,272.1 356.6,272.3 356.8,272.5 357.1,272.6 357.3,272.6 357.6,272.4 357.8,272.2 358.1,272.8 358.3,273.4 358.6,272.8 358.8,272.2 359.1,272.2 359.3,272.2 359.6,272.1 359.8,272.1 360.1,272.4 360.3,272.7 360.6,272.4 360.8,272.1 361.1,272.5 361.3,272.9 361.6,272.8 361.8,272.7 362.1,272.8 362.3,272.9 362.6,272.7 362.8,272.5 363.1,272.4 363.3,272.4 363.6,272.2 363.8,272.1 364.1,272.5 364.3,272.8 364.6,273.0 364.8,273.2 365.1,273.4 365.3,273.5 365.6,273.1 365.8,272.6 366.1,272.2 366.3,271.8 366.6,271.9 366.8,272.0 367.1,272.7 367.3,273.4 367.6,273.1 367.8,272.7 368.1,272.3 368.3,272.0 368.6,272.5 368.8,273.0 369.1,273.5 369.3,274.0 369.6,272.8 369.8,271.7 370.1,272.3 370.3,272.9 370.6,272.7 370.8,272.5 371.1,272.4 371.3,272.4 371.6,272.2 371.8,272.0 372.1,271.4 372.3,270.7 372.6,270.1 372.8,269.5 373.1,268.9 373.3,268.3 373.4,267.8 373.6,266.3 373.8,263.9 374.1,261.9 374.1,261.5 374.3,263.8 374.6,267.8 374.6,268.6 374.8,271.2 375.0,272.0 375.1,271.6 375.3,269.5 375.6,269.4 375.8,269.3 375.9,268.5 376.1,267.0 376.3,264.5 376.6,263.0 376.8,261.5 377.1,260.2 377.3,258.9 377.4,258.4 377.6,259.6 377.8,261.5 378.0,262.6 378.1,262.8 378.3,263.9 378.6,264.9 378.6,265.1 378.8,264.5 379.1,264.3 379.3,264.1 379.6,264.0 379.6,264.0 379.8,264.0 380.1,263.4 380.3,262.7 380.5,262.5 380.6,262.6 380.8,263.2 381.1,263.1 381.3,262.9 381.6,263.7 381.6,263.8 381.8,264.2 382.1,264.8 382.3,265.4 382.6,266.0 382.8,266.6 383.1,265.7 383.2,265.2 383.3,264.8 383.6,265.6 383.8,266.3 384.1,266.6 384.3,266.8 384.6,267.1 384.8,267.4 385.1,266.7 385.3,266.1 385.6,266.3 385.8,266.6 386.1,267.2 386.3,267.8 386.6,267.4 386.8,267.0 387.1,267.4 387.3,267.8 387.6,267.9 387.8,268.0 388.1,268.2 388.3,268.5 388.6,268.3 388.8,268.1 389.1,268.5 389.3,268.9 389.6,268.8 389.8,268.7 390.1,269.1 390.3,269.5 390.6,269.2 390.8,269.0 391.1,268.9 391.3,268.7 391.6,269.1 391.8,269.5 392.1,269.6 392.3,269.6 392.6,269.6 392.8,269.6 393.1,270.2 393.3,270.8 393.6,270.4 393.8,270.0 394.1,270.0 394.3,270.0 394.6,269.9 394.8,269.9 395.1,269.6 395.3,269.3 395.6,269.9 395.8,270.5 396.1,270.7 396.3,270.8 396.6,271.1 396.8,271.4 397.1,271.3 397.3,271.1 397.6,271.0 397.7,270.8 397.8,270.7 398.1,271.2 398.3,271.6 398.6,271.5 398.8,271.4 399.1,271.4 399.3,271.4 399.6,272.2 399.8,273.1 400.1,272.5 400.3,272.0 400.6,272.1 400.8,272.1 401.1,271.8 401.3,271.5 401.6,271.3 401.8,271.2 402.1,271.5 402.3,271.7 402.6,271.8 402.8,271.8 403.1,271.9 403.3,272.1 403.6,272.3 403.8,272.6 404.1,272.6 404.3,272.7 404.6,272.7 404.8,272.8 405.0,272.8 405.1,272.7 405.3,272.6 405.6,272.1 405.8,271.6 406.1,272.2 406.3,272.8 406.6,272.4 406.8,272.0 407.1,272.1 407.3,272.1 407.6,272.2 407.8,272.3 408.1,272.0 408.3,271.7 408.6,271.2 408.8,270.6 409.1,270.6 409.3,270.5 409.5,271.0 409.6,270.8 409.8,269.4 410.1,267.1 410.3,264.7 410.4,263.8 410.6,257.3 410.8,246.4 411.1,236.5 411.1,234.5 411.3,226.5 411.6,215.3 411.7,208.7 411.8,212.1 412.1,221.7 412.1,223.6 412.3,231.0 412.5,237.8 412.6,236.3 412.8,228.7 412.9,225.9 413.1,221.7 413.3,214.8 413.6,222.6 413.8,230.3 414.1,239.4 414.2,244.8 414.3,244.2 414.6,243.5 414.8,242.8 415.0,241.1 415.1,240.8 415.3,239.3 415.6,239.1 415.7,239.0 415.8,240.1 416.1,242.3 416.3,244.4 416.4,245.7 416.6,247.2 416.8,249.8 417.0,250.1 417.1,250.3 417.3,251.0 417.6,253.5 417.8,255.9 418.1,257.3 418.3,258.6 418.6,261.3 418.8,263.9 418.9,264.5 419.1,264.7 419.3,265.2 419.6,266.6 419.8,268.1 420.1,269.2 420.3,270.2 420.5,271.3 420.6,271.3 420.8,271.8 421.1,271.6 421.3,271.4 421.6,271.7 421.8,272.0 422.1,272.1 422.3,272.2 422.6,272.4 422.8,272.5 423.0,272.4 423.1,272.4 423.3,272.1 423.6,272.5 423.8,272.9 424.1,272.6 424.3,272.2 424.6,272.5 424.8,272.8 425.1,272.4 425.3,272.0 425.6,272.3 425.8,272.6 426.1,272.7 426.3,272.9 426.6,272.7 426.8,272.5 427.1,272.3 427.3,272.2 427.6,272.0 427.8,271.9 428.1,272.1 428.3,272.4 428.6,272.4 428.8,272.5 429.1,272.6 429.3,272.6 429.6,272.4 429.8,272.2 430.1,272.6 430.3,273.1 430.6,273.0 430.8,273.0 431.1,272.9 431.3,272.8 431.6,272.7 431.8,272.5 432.1,272.5 432.3,272.4 432.6,272.5 432.8,272.5 433.1,272.6 433.3,272.6 433.6,272.1 433.8,271.7 434.1,272.0 434.3,272.4 434.6,272.5 434.8,272.5 435.1,272.2 435.3,271.8 435.6,271.8 435.8,271.8 436.1,272.0 436.3,272.2 436.6,273.0 436.8,273.9 437.1,273.6 437.3,273.3 437.6,273.1 437.8,272.9 438.1,272.4 438.3,272.0 438.6,272.5 438.8,273.0 439.1,272.9 439.3,272.7 439.6,272.4 439.8,272.1 440.1,272.3 440.3,272.5 440.6,272.7 440.8,272.8 441.1,272.7 441.3,272.6 441.6,273.0 441.8,273.5 442.1,273.0 442.3,272.6 442.6,272.8 442.8,272.9 443.1,272.6 443.3,272.3 443.6,272.1 443.8,271.9 444.1,272.1 444.3,272.3 444.6,272.6 444.8,272.9 445.1,272.7 445.3,272.4 445.6,272.7 445.8,273.0 446.1,272.9 446.3,272.9 446.6,272.8 446.8,272.7 447.1,272.2 447.3,271.8 447.6,272.1 447.8,272.4 448.1,272.3 448.3,272.2 448.6,272.4 448.8,272.6 449.1,272.3 449.3,272.0 449.6,272.4 449.8,272.9 450.0,273.1 450.1,273.2 450.3,273.4 450.6,272.9 450.8,272.5 451.1,272.4 451.3,272.3 451.6,271.5 451.8,270.7 452.1,270.9 452.3,271.2 452.5,271.2 452.6,271.2 452.8,271.1 453.1,270.6 453.3,270.1 453.6,270.4 453.8,270.6 454.1,270.2 454.2,270.0 454.3,270.0 454.6,270.4 454.8,270.7 455.1,270.3 455.3,269.9 455.6,270.2 455.8,270.6 456.0,271.3 456.1,271.5 456.3,272.4 456.6,271.7 456.8,271.1 457.1,271.8 457.3,272.4 457.6,272.4 457.8,272.4 457.9,272.8 458.1,273.2 458.3,273.9 458.6,272.8 458.8,271.8 459.1,271.7 459.3,271.7 459.6,272.1 459.8,272.5 460.1,272.7 460.3,272.9 460.6,272.9 460.8,273.0 461.1,272.3 461.3,271.6 461.6,272.1 461.8,272.5 462.1,271.7 462.3,270.9 462.6,271.9 462.8,272.9 463.1,272.5 463.3,272.2 463.6,271.3 463.8,270.4 464.1,271.1 464.3,271.8 464.6,271.5 464.8,271.2 465.1,271.2 465.3,271.2 465.6,271.8 465.8,272.4 466.1,271.5 466.3,270.6 466.6,270.7 466.8,270.8 467.1,271.5 467.3,272.2 467.6,272.1 467.8,271.9 468.0,271.5 468.1,271.3 468.3,270.4 468.6,269.8 468.8,269.2 469.1,269.0 469.3,268.8 469.6,268.8 469.8,268.7 469.9,268.4 470.1,266.5 470.3,263.4 470.6,260.6 470.8,257.7 470.9,256.5 471.1,254.0 471.3,250.0 471.6,245.8 471.7,243.3 471.8,245.2 472.1,250.4 472.2,253.4 472.3,252.3 472.6,249.5 472.8,246.7 473.0,244.1 473.1,244.6 473.3,247.1 473.6,250.1 473.6,250.7 473.8,248.5 474.1,245.5 474.3,242.5 474.6,239.1 474.6,238.5 474.8,235.8 475.1,233.1 475.3,230.3 475.4,229.1 475.6,231.3 475.8,235.0 476.0,238.2 476.1,238.8 476.3,242.1 476.6,245.2 476.7,247.1 476.8,248.1 477.1,250.0 477.3,251.9 477.6,254.4 477.8,256.9 478.1,256.8 478.3,256.6 478.6,257.4 478.8,258.2 479.1,258.7 479.3,259.1 479.6,259.0 479.8,258.8 480.1,259.8 480.3,260.7 480.6,261.4 480.8,262.1 481.1,263.1 481.1,263.3 481.3,263.8 481.6,263.7 481.8,263.7 482.1,264.1 482.3,264.5 482.6,265.1 482.8,265.7 483.1,265.6 483.3,265.5 483.6,265.8 483.8,266.2 484.0,266.5 484.1,266.6 484.3,266.7 484.6,266.9 484.8,267.0 485.1,267.1 485.3,267.3 485.6,267.0 485.8,266.7 486.1,267.5 486.2,267.9 486.3,268.3 486.6,268.0 486.8,267.7 487.1,267.8 487.3,268.0 487.6,268.5 487.8,269.1 488.1,269.5 488.3,269.9 488.6,269.0 488.8,268.2 489.1,269.3 489.3,270.4 489.6,270.4 489.8,270.4 490.1,269.6 490.3,268.8 490.6,269.2 490.8,269.5 491.1,269.0 491.3,268.5 491.5,268.6 491.6,268.6 491.8,268.7 492.1,268.4 492.3,268.2 492.6,267.6 492.7,267.2 492.8,267.2 493.1,268.1 493.3,269.0 493.6,268.9 493.8,268.8 494.0,269.9 494.1,270.2 494.3,271.5 494.6,270.6 494.8,269.7 495.1,270.5 495.3,271.2 495.6,271.2 495.6,271.2 495.8,271.1 496.1,271.2 496.3,271.3 496.6,271.8 496.8,272.2 497.1,272.0 497.3,271.7 497.6,272.0 497.8,272.3 498.1,272.5 498.3,272.8 498.5,272.5 498.6,272.5 498.8,272.1 499.1,272.2 499.3,272.4 499.6,272.6 499.8,272.8 500.1,272.8 500.3,272.8 500.6,272.6 500.8,272.3 501.1,272.2 501.3,272.2 501.6,272.3 501.8,272.5 502.1,272.4 502.3,272.2 502.6,272.7 502.8,273.2 503.1,272.6 503.3,271.9 503.6,272.3 503.8,272.8 504.1,273.1 504.3,273.3 504.6,273.1 504.8,272.9 505.1,272.1 505.3,271.2 505.6,271.9 505.8,272.6 506.1,272.7 506.3,272.9 506.6,272.7 506.8,272.5 507.1,272.8 507.3,273.1 507.6,273.0 507.8,272.8 508.1,273.2 508.3,273.5 508.6,272.4 508.8,271.4 509.1,271.7 509.3,272.1 509.6,272.6 509.8,273.1 510.1,273.1 510.3,273.1 510.6,273.1 510.8,273.0 511.1,272.8 511.3,272.6 511.6,272.7 511.8,272.8 512.0,273.1 512.3,273.5 512.5,273.0 512.8,272.4 513.0,272.5 513.3,272.6 513.5,273.1 513.8,273.6 514.0,272.8 514.3,271.9 514.5,272.4 514.8,273.0 515.0,272.9 515.3,272.8 515.5,272.7 515.8,272.7 516.0,272.6 516.3,272.6 516.5,271.9 516.8,271.3 517.0,271.6 517.3,271.9 517.5,272.5 517.8,273.1 518.0,272.5 518.3,271.9 518.5,272.6 518.8,273.2 519.0,273.4 519.3,273.5 519.5,272.6 519.8,271.7 520.0,272.3 520.3,272.9 520.5,272.9 520.8,272.9 521.0,273.1 521.3,273.3 521.5,273.1 521.8,272.8 522.0,272.9 522.3,273.0 522.5,273.0 522.8,272.9 523.0,272.6 523.3,272.4 523.5,272.4 523.8,272.4 524.0,272.7 524.3,273.0 524.5,272.2 524.8,271.5 525.0,271.5 525.3,271.5 525.5,272.3 525.8,273.1 526.0,272.7 526.3,272.3 526.5,272.8 526.8,273.3 527.0,273.0 527.3,272.6 527.5,272.4 527.8,272.3 528.0,272.3 528.3,272.4 528.5,272.2 528.8,272.1 529.0,271.8 529.3,271.5 529.5,272.3 529.8,273.0 530.0,272.1 530.3,271.2 530.5,271.5 530.8,271.9 531.0,272.4 531.3,272.8 531.5,272.8 531.8,272.8 532.0,272.5 532.3,272.3 532.5,272.3 532.8,272.3 533.0,272.7 533.3,273.2 533.5,272.9 533.8,272.5" fill="none" stroke="#f7901e" stroke-width="1.5" stroke-linejoin="round" stroke-linecap="round"/>
<path d="M307.0,276.1 L314.4,283.6 Q324.5,293.6 334.5,284.0 L341.7,277.1" fill="none" stroke="#787878" stroke-width="1.15" stroke-dasharray="3,2.3"/>
<path d="M372.2,277.2 L378.6,283.9 Q387.5,293.0 395.4,284.1 L401.2,277.8 L407.6,284.6 Q416.5,293.9 424.4,284.8 L430.1,278.3" fill="none" stroke="#787878" stroke-width="1.15" stroke-dasharray="3,2.3"/>
<path d="M460.3,276.8 L467.8,284.6 Q478.2,295.2 488.4,285.0 L495.8,277.8" fill="none" stroke="#787878" stroke-width="1.15" stroke-dasharray="3,2.3"/>
<path d="M288.3,292.9H534.3" stroke="#333333" stroke-width="1.15" fill="none"/>
<path d="M288.8,292.9V296.8M316.0,292.9V296.8M343.2,292.9V296.8M370.5,292.9V296.8M397.7,292.9V296.8M424.9,292.9V296.8M452.1,292.9V296.8M479.4,292.9V296.8M506.6,292.9V296.8M533.8,292.9V296.8" stroke="#333333" stroke-width="1.1" fill="none"/>
<text transform="translate(288.8 306.0) scale(1 1.15)" class="tk" font-size="8">178</text>
<text transform="translate(316.0 306.0) scale(1 1.15)" class="tk" font-size="8">177</text>
<text transform="translate(343.2 306.0) scale(1 1.15)" class="tk" font-size="8">176</text>
<text transform="translate(370.5 306.0) scale(1 1.15)" class="tk" font-size="8">175</text>
<text transform="translate(397.7 306.0) scale(1 1.15)" class="tk" font-size="8">174</text>
<text transform="translate(424.9 306.0) scale(1 1.15)" class="tk" font-size="8">173</text>
<text transform="translate(452.1 306.0) scale(1 1.15)" class="tk" font-size="8">172</text>
<text transform="translate(479.4 306.0) scale(1 1.15)" class="tk" font-size="8">171</text>
<text transform="translate(506.6 306.0) scale(1 1.15)" class="tk" font-size="8">170</text>
<text transform="translate(533.8 306.0) scale(1 1.15)" class="tk" font-size="8">169</text>
<polyline points="290.1,391.4 290.4,391.2 290.6,391.0 290.9,391.6 291.1,392.2 291.4,392.5 291.6,392.7 291.9,391.4 292.1,390.0 292.4,391.3 292.6,392.6 292.9,392.4 293.1,392.2 293.4,392.1 293.6,392.0 293.9,392.8 294.1,393.6 294.4,393.0 294.6,392.5 294.9,392.5 295.1,392.5 295.4,392.6 295.6,392.7 295.9,392.2 296.1,391.7 296.4,391.7 296.6,391.8 296.9,391.7 297.1,391.7 297.4,391.4 297.6,391.1 297.9,391.5 298.1,391.8 298.4,391.6 298.6,391.4 298.9,391.5 299.1,391.6 299.4,391.7 299.6,391.7 299.9,391.5 300.1,391.2 300.4,391.3 300.6,391.4 300.9,391.6 301.1,391.7 301.4,391.4 301.6,391.2 301.9,392.0 302.1,392.8 302.4,392.4 302.6,392.0 302.9,392.0 303.1,392.0 303.4,391.8 303.6,391.6 303.9,391.1 304.1,390.5 304.4,391.6 304.6,392.6 304.9,391.9 305.1,391.1 305.4,391.6 305.6,392.2 305.9,391.7 306.1,391.2 306.4,391.8 306.6,392.3 306.9,392.4 307.1,392.5 307.4,392.3 307.6,392.1 307.9,392.0 308.1,391.9 308.4,391.7 308.6,391.5 308.9,391.7 309.1,391.9 309.4,391.3 309.6,390.6 309.9,390.6 310.1,390.6 310.4,391.2 310.6,391.8 310.9,391.7 311.1,391.6 311.4,391.9 311.6,392.1 311.9,392.0 312.1,391.9 312.4,392.3 312.6,392.6 312.9,392.6 313.1,392.6 313.4,392.5 313.6,392.4 313.9,392.4 314.1,392.3 314.4,392.0 314.6,391.6 314.9,391.8 315.1,391.9 315.4,391.7 315.6,391.5 315.9,392.0 316.1,392.5 316.4,391.8 316.6,391.2 316.9,391.4 317.1,391.5 317.4,392.1 317.6,392.7 317.9,392.2 318.1,391.7 318.4,391.7 318.6,391.7 318.9,391.7 319.1,391.7 319.4,392.2 319.6,392.8 319.9,392.5 320.1,392.2 320.4,391.7 320.6,391.2 320.9,391.4 321.1,391.5 321.4,392.1 321.5,392.4 321.6,392.5 321.9,392.0 322.1,391.6 322.4,391.7 322.6,391.8 322.9,391.8 323.1,391.7 323.4,390.8 323.6,389.9 323.9,390.7 324.1,391.4 324.4,391.2 324.6,391.1 324.9,389.7 325.1,388.3 325.4,388.8 325.4,388.9 325.6,389.2 325.9,388.6 326.1,388.1 326.4,387.8 326.6,387.5 326.9,387.1 327.1,386.7 327.4,387.2 327.4,387.3 327.6,387.4 327.9,386.0 328.1,384.6 328.4,384.4 328.6,384.1 328.7,383.8 328.9,384.3 329.1,385.1 329.3,385.8 329.4,385.9 329.6,386.7 329.9,387.3 329.9,387.5 330.1,387.5 330.4,387.2 330.6,386.8 330.9,387.6 331.1,388.3 331.4,388.5 331.6,388.6 331.7,388.4 331.9,388.2 332.1,387.8 332.4,388.5 332.6,389.1 332.9,388.6 333.1,388.1 333.4,388.7 333.6,389.3 333.9,389.8 334.1,390.3 334.4,390.7 334.6,391.0 334.9,390.4 335.1,389.7 335.4,389.8 335.6,389.8 335.9,389.9 336.1,390.1 336.4,391.1 336.6,392.2 336.8,391.9 336.9,391.9 337.1,391.5 337.4,391.0 337.6,390.5 337.9,391.1 338.1,391.8 338.4,391.6 338.6,391.4 338.9,391.4 339.1,391.3 339.4,391.2 339.6,391.0 339.9,390.7 340.1,390.4 340.4,390.9 340.6,391.3 340.9,391.5 341.1,391.6 341.4,391.9 341.6,392.2 341.9,391.8 342.1,391.4 342.4,391.5 342.6,391.6 342.9,391.9 343.1,392.2 343.4,391.9 343.6,391.6 343.9,391.6 344.1,391.6 344.4,391.6 344.6,391.5 344.9,392.1 345.0,392.4 345.1,392.7 345.4,392.0 345.6,391.4 345.9,391.8 346.1,392.2 346.4,392.2 346.6,392.3 346.9,391.6 347.1,391.0 347.4,391.5 347.6,392.1 347.9,391.9 348.1,391.7 348.4,391.5 348.6,391.4 348.9,391.8 349.1,392.2 349.4,392.0 349.6,391.9 349.9,392.3 350.1,392.8 350.4,392.4 350.6,392.0 350.9,391.9 351.1,391.8 351.4,391.9 351.6,392.1 351.9,391.7 352.1,391.4 352.4,391.5 352.6,391.6 352.9,391.5 353.1,391.4 353.4,392.2 353.6,392.9 353.9,392.6 354.1,392.3 354.4,391.7 354.6,391.1 354.9,391.9 355.1,392.7 355.4,392.3 355.6,391.9 355.9,391.7 356.1,391.5 356.4,391.4 356.6,391.3 356.9,391.7 357.1,392.0 357.4,391.7 357.6,391.4 357.9,391.7 358.1,392.1 358.4,392.4 358.6,392.7 358.9,391.9 359.1,391.2 359.4,390.8 359.6,390.3 359.9,390.4 360.1,390.6 360.4,390.9 360.6,391.2 360.9,391.6 361.1,391.9 361.4,391.6 361.6,391.3 361.9,391.0 362.1,390.6 362.4,390.7 362.6,390.8 362.9,390.1 363.1,389.4 363.4,390.4 363.6,391.3 363.9,391.6 364.1,391.9 364.4,391.4 364.6,390.9 364.9,391.4 365.1,391.8 365.4,391.9 365.6,391.9 365.9,391.9 366.1,392.0 366.4,391.6 366.6,391.2 366.9,391.2 367.1,391.2 367.4,391.7 367.6,392.3 367.9,391.8 368.1,391.3 368.4,391.8 368.6,392.4 368.9,391.8 369.1,391.2 369.4,391.3 369.6,391.4 369.9,391.5 370.1,391.6 370.4,391.2 370.6,390.9 370.9,391.0 371.1,391.1 371.4,390.9 371.6,390.6 371.9,391.0 372.1,391.4 372.4,392.2 372.6,392.9 372.9,392.2 373.1,391.5 373.4,391.5 373.6,391.4 373.7,391.5 373.9,391.4 374.1,391.4 374.4,391.0 374.6,390.6 374.9,390.5 375.1,390.5 375.4,390.3 375.6,390.2 375.9,389.5 376.1,388.8 376.4,388.8 376.6,388.8 376.9,388.8 377.0,388.8 377.1,388.7 377.4,388.7 377.6,388.7 377.9,387.5 378.1,386.2 378.4,385.9 378.4,385.9 378.6,385.6 378.9,384.6 379.1,383.6 379.3,382.9 379.4,383.0 379.6,383.5 379.9,384.6 380.0,385.2 380.1,385.5 380.4,385.8 380.6,386.1 380.9,386.0 381.1,385.9 381.4,384.6 381.6,383.3 381.8,382.3 381.9,382.1 382.1,380.9 382.4,380.5 382.6,380.2 382.9,381.1 383.1,382.0 383.4,383.1 383.4,383.3 383.6,384.0 383.9,384.5 384.1,385.1 384.4,385.3 384.4,385.4 384.6,385.2 384.9,385.4 385.1,385.5 385.4,385.6 385.6,385.7 385.9,385.8 386.1,385.9 386.4,385.7 386.6,385.6 386.9,385.8 387.1,386.0 387.4,386.4 387.6,386.8 387.9,386.9 388.1,387.1 388.4,387.1 388.6,387.2 388.9,387.5 389.0,387.7 389.1,387.8 389.4,388.1 389.6,388.4 389.9,388.1 390.1,387.8 390.4,388.0 390.6,388.3 390.9,387.9 391.1,387.5 391.4,388.0 391.6,388.6 391.9,389.3 392.1,390.1 392.4,389.6 392.6,389.1 392.9,389.3 393.1,389.5 393.4,389.5 393.6,389.5 393.9,389.5 394.1,389.4 394.4,390.3 394.6,391.2 394.9,390.2 395.1,389.2 395.4,390.0 395.6,390.8 395.9,390.7 396.1,390.6 396.4,390.6 396.6,390.6 396.9,390.5 397.1,390.3 397.4,390.4 397.6,390.5 397.9,391.1 398.1,391.7 398.4,391.5 398.6,391.3 398.9,391.3 399.1,391.4 399.4,391.7 399.6,392.0 399.9,392.1 400.1,392.3 400.4,391.2 400.4,390.9 400.6,390.0 400.9,391.2 401.1,392.5 401.4,392.1 401.6,391.8 401.9,392.2 402.1,392.6 402.4,392.4 402.6,392.3 402.9,391.7 403.1,391.0 403.4,391.6 403.6,392.2 403.9,391.7 404.1,391.2 404.4,391.6 404.6,392.0 404.9,391.0 405.1,390.0 405.4,390.6 405.6,391.3 405.9,391.5 406.1,391.7 406.4,391.4 406.6,391.1 406.9,391.4 407.1,391.8 407.4,391.2 407.6,390.6 407.9,390.7 408.1,390.8 408.4,391.3 408.6,391.7 408.9,392.0 409.1,392.2 409.4,391.3 409.6,390.4 409.9,390.8 410.1,391.2 410.4,391.3 410.6,391.4 410.9,391.0 411.1,390.7 411.4,390.4 411.6,390.1 411.9,390.2 412.1,390.3 412.4,390.5 412.6,390.7 412.9,390.8 413.1,390.9 413.4,390.4 413.6,390.0 413.9,389.9 414.1,389.8 414.4,388.8 414.4,388.6 414.6,387.6 414.9,387.6 415.1,387.6 415.4,387.4 415.6,387.2 415.9,387.6 416.1,388.1 416.4,387.0 416.6,385.8 416.9,385.4 417.0,385.2 417.1,384.7 417.4,383.6 417.6,382.4 417.9,381.3 417.9,381.1 418.1,379.9 418.4,378.5 418.5,377.6 418.6,378.5 418.9,380.0 419.1,381.5 419.4,383.5 419.6,385.5 419.9,386.4 420.0,386.9 420.1,386.9 420.4,386.8 420.6,386.8 420.9,387.3 421.1,387.7 421.4,387.9 421.6,388.1 421.9,389.7 422.1,391.3 422.4,390.0 422.6,388.7 422.9,389.4 423.1,390.2 423.3,390.5 423.4,390.5 423.6,390.6 423.9,391.1 424.1,391.5 424.4,390.8 424.6,390.2 424.9,390.4 425.1,390.5 425.4,390.7 425.6,390.8 425.9,390.7 426.1,390.5 426.4,391.2 426.6,391.8 426.9,391.7 427.1,391.7 427.4,391.9 427.6,392.2 427.9,392.0 428.1,391.9 428.4,391.8 428.6,391.7 428.9,391.6 429.1,391.4 429.4,391.4 429.6,391.5 429.9,391.3 430.0,391.1 430.1,391.0 430.4,391.2 430.6,391.4 430.9,391.2 431.1,391.0 431.4,390.6 431.5,390.4 431.6,390.4 431.9,390.4 432.1,390.4 432.4,391.5 432.6,392.5 432.9,391.7 433.0,391.2 433.1,390.8 433.4,391.5 433.6,392.2 433.9,392.0 434.1,391.8 434.4,391.5 434.6,391.1 434.9,390.9 435.1,390.7 435.4,391.6 435.6,392.4 435.9,391.9 436.1,391.4 436.4,390.9 436.6,390.5 436.9,391.1 437.1,391.7 437.4,391.4 437.6,391.0 437.9,391.0 438.1,390.9 438.4,391.4 438.6,391.8 438.9,391.7 439.1,391.6 439.4,391.6 439.6,391.7 439.9,391.8 440.0,391.9 440.1,391.9 440.4,392.1 440.6,392.3 440.9,391.7 441.1,391.2 441.4,391.5 441.6,391.8 441.9,392.0 442.1,392.2 442.4,391.7 442.6,391.3 442.9,391.6 443.1,391.9 443.4,392.0 443.6,392.2 443.9,392.7 444.1,393.2 444.4,392.7 444.6,392.2 444.9,392.4 445.1,392.7 445.4,392.7 445.6,392.6 445.9,391.7 446.1,390.7 446.4,391.2 446.6,391.7 446.9,391.8 447.1,391.9 447.4,391.7 447.6,391.4 447.9,391.2 448.1,391.0 448.4,391.9 448.6,392.8 448.9,392.5 449.1,392.1 449.4,391.9 449.6,391.6 449.9,391.5 450.1,391.4 450.4,391.3 450.6,391.2 450.9,391.3 451.1,391.4 451.4,392.0 451.6,392.6 451.9,392.2 452.1,391.8 452.4,392.2 452.6,392.5 452.9,391.7 453.1,390.9 453.4,391.1 453.6,391.2 453.9,391.0 454.1,390.8 454.4,391.5 454.6,392.2 454.9,392.5 455.1,392.8 455.4,392.2 455.6,391.6 455.9,391.1 456.1,390.5 456.4,390.2 456.6,390.0 456.9,390.9 457.1,391.8 457.4,392.0 457.6,392.2 457.9,392.1 458.1,392.0 458.4,392.2 458.6,392.5 458.9,392.5 459.0,392.5 459.1,392.4 459.4,391.8 459.6,391.2 459.9,391.0 460.1,390.7 460.4,390.7 460.6,390.7 460.9,390.9 461.1,391.0 461.4,390.3 461.6,389.7 461.9,390.0 462.0,390.1 462.1,390.4 462.4,390.8 462.6,391.2 462.9,390.7 463.1,390.2 463.4,391.0 463.6,391.8 463.9,391.6 464.1,391.3 464.4,391.2 464.6,391.1 464.9,391.5 465.1,391.8 465.4,391.7 465.6,391.5 465.9,391.5 466.1,391.5 466.4,391.7 466.6,392.0 466.9,391.6 467.1,391.2 467.4,391.0 467.6,390.9 467.9,390.9 468.1,390.8 468.4,389.7 468.6,388.5 468.9,389.0 469.0,389.2 469.1,389.3 469.4,389.0 469.6,388.8 469.9,388.2 470.1,387.6 470.4,386.6 470.6,385.6 470.9,384.9 471.1,384.3 471.4,383.1 471.6,381.9 471.9,380.3 472.1,378.7 472.4,377.2 472.5,376.3 472.6,375.4 472.9,372.2 473.1,369.0 473.4,366.7 473.6,364.3 473.7,363.2 473.9,363.9 474.1,365.0 474.3,365.9 474.4,364.6 474.6,358.2 474.7,355.7 474.9,351.6 475.0,347.5 475.1,351.1 475.3,357.8 475.4,359.3 475.6,366.6 475.7,369.4 475.9,369.7 476.1,370.2 476.4,371.4 476.4,371.7 476.6,371.7 476.9,371.2 477.1,370.7 477.4,370.9 477.6,371.1 477.9,370.4 477.9,370.2 478.1,370.4 478.4,371.3 478.6,372.2 478.9,373.6 479.1,375.0 479.2,375.1 479.4,375.7 479.6,376.6 479.9,377.8 480.1,378.9 480.4,379.9 480.6,380.9 480.7,381.6 480.9,382.2 481.1,383.0 481.4,382.7 481.6,382.4 481.9,382.9 482.1,383.4 482.3,383.5 482.4,383.6 482.6,383.7 482.9,384.9 483.1,386.0 483.4,386.2 483.6,386.3 483.9,386.1 484.1,385.8 484.4,387.3 484.6,388.8 484.9,388.6 485.1,388.4 485.4,387.9 485.6,387.4 485.9,388.0 486.1,388.5 486.4,387.8 486.5,387.4 486.6,387.2 486.9,387.3 487.1,387.5 487.4,387.1 487.6,386.7 487.8,387.0 487.9,387.2 488.1,387.8 488.4,387.4 488.6,386.9 488.9,387.8 489.1,388.7 489.4,388.6 489.6,388.5 489.9,388.8 490.1,389.2 490.4,389.3 490.6,389.4 490.9,390.4 491.1,391.3 491.4,390.9 491.6,390.4 491.9,390.4 492.1,390.4 492.4,389.9 492.6,389.4 492.9,390.2 493.1,391.0 493.4,390.7 493.6,390.5 493.9,390.4 494.1,390.4 494.4,390.4 494.6,390.5 494.9,390.7 495.1,390.9 495.4,391.1 495.6,391.2 495.9,391.2 496.1,391.2 496.4,391.5 496.6,391.8 496.9,392.5 497.1,393.2 497.4,392.3 497.6,391.4 497.9,391.3 498.1,391.2 498.4,391.1 498.6,391.1 498.9,391.1 499.1,391.1 499.4,391.6 499.6,392.1 499.9,391.7 500.1,391.4 500.4,391.7 500.6,392.0 500.9,391.5 501.1,391.0 501.4,391.9 501.6,392.8 501.8,392.7 501.9,392.6 502.1,392.5 502.4,392.1 502.6,391.8 502.9,391.6 503.1,391.4 503.4,391.7 503.6,392.1 503.9,391.9 504.1,391.7 504.4,391.7 504.6,391.8 504.9,391.3 505.1,390.9 505.4,391.3 505.6,391.7 505.9,391.6 506.1,391.6 506.4,391.5 506.6,391.4 506.9,391.7 507.1,392.0 507.4,392.2 507.6,392.3 507.9,392.5 508.1,392.6 508.4,392.1 508.6,391.6 508.9,391.8 509.1,392.1 509.4,392.0 509.6,392.0 509.9,391.8 510.1,391.7 510.4,392.1 510.6,392.6 510.9,392.1 511.1,391.6 511.4,391.9 511.6,392.2 511.9,392.2 512.1,392.1 512.4,392.3 512.6,392.5 512.9,392.0 513.1,391.4 513.4,391.4 513.6,391.4 513.9,391.7 514.1,392.1 514.4,392.3 514.6,392.4 514.9,392.1 515.1,391.7 515.4,391.6 515.6,391.5 515.9,392.2 516.1,393.0 516.4,392.3 516.6,391.7 516.9,391.3 517.1,390.8 517.4,391.3 517.6,391.7 517.9,392.2 518.0,392.4 518.1,392.6 518.4,392.1 518.6,391.7 518.9,391.3 519.1,391.0 519.4,390.7 519.6,390.4 519.9,390.0 520.1,389.6 520.4,390.8 520.5,391.4 520.6,391.8 520.9,390.7 521.1,389.5 521.4,390.1 521.6,390.8 521.8,390.0 521.9,389.8 522.1,389.2 522.4,389.6 522.6,390.0 522.9,390.3 523.1,390.5 523.2,390.7 523.4,390.9 523.6,391.3 523.9,391.5 524.1,391.6 524.4,391.3 524.6,391.1 524.9,391.7 525.1,392.3 525.4,391.7 525.6,391.1 525.9,391.1 526.0,391.1 526.1,391.1 526.4,391.9 526.6,392.7 526.9,392.5 527.1,392.4 527.4,392.2 527.6,392.0 527.9,391.9 528.1,391.8 528.4,391.6 528.6,391.4 528.9,391.0 529.1,390.5 529.4,390.8 529.6,391.1 529.9,391.2 530.1,391.2 530.4,391.1 530.6,391.1 530.9,392.1 531.1,393.1 531.4,392.7 531.6,392.4 531.9,392.0 532.1,391.6 532.4,391.6 532.6,391.6 532.9,391.7 533.1,391.8 533.4,392.2 533.6,392.7 533.9,392.6 534.1,392.6 534.4,392.0 534.6,391.4 534.9,392.0 535.1,392.6 535.3,392.8" fill="none" stroke="#f04a23" stroke-width="1.5" stroke-linejoin="round" stroke-linecap="round"/>
<path d="M308.8,397.6 L316.0,404.8 Q326.0,414.5 336.5,405.0 L344.1,398.2" fill="none" stroke="#787878" stroke-width="1.15" stroke-dasharray="3,2.3"/>
<path d="M373.8,397.0 L379.5,404.1 Q387.3,413.7 396.5,404.6 L403.1,398.2 L409.5,405.5 Q418.3,415.4 425.8,405.8 L431.3,399.0" fill="none" stroke="#787878" stroke-width="1.15" stroke-dasharray="3,2.3"/>
<path d="M461.5,397.0 L469.1,405.0 Q479.6,415.8 489.9,405.5 L497.4,398.2" fill="none" stroke="#787878" stroke-width="1.15" stroke-dasharray="3,2.3"/>
<path d="M289.6,413.4H535.8" stroke="#333333" stroke-width="1.15" fill="none"/>
<path d="M290.1,413.4V417.3M317.3,413.4V417.3M344.6,413.4V417.3M371.8,413.4V417.3M399.1,413.4V417.3M426.3,413.4V417.3M453.6,413.4V417.3M480.8,413.4V417.3M508.1,413.4V417.3M535.3,413.4V417.3" stroke="#333333" stroke-width="1.1" fill="none"/>
<text transform="translate(290.1 426.2) scale(1 1.15)" class="tk" font-size="8">178</text>
<text transform="translate(317.3 426.2) scale(1 1.15)" class="tk" font-size="8">177</text>
<text transform="translate(344.6 426.2) scale(1 1.15)" class="tk" font-size="8">176</text>
<text transform="translate(371.8 426.2) scale(1 1.15)" class="tk" font-size="8">175</text>
<text transform="translate(399.1 426.2) scale(1 1.15)" class="tk" font-size="8">174</text>
<text transform="translate(426.3 426.2) scale(1 1.15)" class="tk" font-size="8">173</text>
<text transform="translate(453.6 426.2) scale(1 1.15)" class="tk" font-size="8">172</text>
<text transform="translate(480.8 426.2) scale(1 1.15)" class="tk" font-size="8">171</text>
<text transform="translate(508.1 426.2) scale(1 1.15)" class="tk" font-size="8">170</text>
<text transform="translate(535.3 426.2) scale(1 1.15)" class="tk" font-size="8">169</text>
<text transform="translate(38.0 35.8) scale(1 1.04)" class="hb" font-size="11.5">(a)</text>
<text transform="translate(41.4 51.3) scale(1 1.04)" class="it" font-size="10">with catalyst</text>
<text transform="translate(297.2 36.6) scale(1 1.04)" class="hb" font-size="11.5">(b)</text>
<text transform="translate(299.3 50.5) scale(1 1.04)" class="it" font-size="10">no catalyst</text>
<text transform="translate(11.3 133.9) scale(1 1.04)" class="hb" font-size="9.8">PGCitCat 1:2</text>
<text transform="translate(5.6 252.8) scale(1 1.04)" class="hb" font-size="9.8">PGCitCat 1:1</text>
<text transform="translate(12.4 373.9) scale(1 1.04)" class="hb" font-size="9.8">PGCitCat 2:1</text>
<text transform="translate(273.0 132.8) scale(1 1.04)" class="hb" font-size="9.8">PGCit 1:2</text>
<text transform="translate(270.9 252.9) scale(1 1.04)" class="hb" font-size="9.8">PGCit 1:1</text>
<text transform="translate(271.7 373.9) scale(1 1.04)" class="hb" font-size="9.8">PGCit 2:1</text>
<text transform="translate(56.0 104.4) scale(1 1.04)" class="rg" style="fill:#ff2a2a;stroke:#ff2a2a" font-size="9.4">alpha acids</text>
<text transform="translate(72.0 117.0) scale(1 1.04)" class="kb" style="fill:#ff2a2a;stroke:#ff2a2a" font-size="9.5">K<tspan class="gr" font-size="10.0">α</tspan></text>
<text transform="translate(101.0 122.6) scale(1 1.04)" class="rg" style="fill:#ff1aa3;stroke:#ff1aa3" font-size="9.4">alpha esters</text>
<text transform="translate(120.0 136.6) scale(1 1.04)" class="kb" style="fill:#ff1aa3;stroke:#ff1aa3" font-size="9.5">E<tspan class="gr" font-size="10.0">α</tspan></text>
<text transform="translate(140.4 91.0) scale(1 1.04)" class="rg" style="fill:#189634;stroke:#189634" font-size="9.4">beta acids</text>
<text transform="translate(154.2 103.0) scale(1 1.04)" class="kb" style="fill:#189634;stroke:#189634" font-size="9.5">K<tspan class="gr" font-size="10.0">β</tspan></text>
<text transform="translate(188.3 91.0) scale(1 1.04)" class="kb" style="fill:#189634;stroke:#189634" font-size="9.5">K<tspan class="gr" font-size="10.0">β</tspan></text>
<text transform="translate(210.0 105.0) scale(1 1.04)" class="rg" style="fill:#ffc000;stroke:#ffc000" font-size="9.4">beta esters</text>
<text transform="translate(218.6 118.6) scale(1 1.04)" class="kb" style="fill:#ffc000;stroke:#ffc000" font-size="9.5">E<tspan class="gr" font-size="10.0">β</tspan></text>
<text transform="translate(198.8 122.7) scale(1 1.04)" class="kb" style="fill:#9b129c;stroke:#9b129c" font-size="7.6">K<tspan class="gr" font-size="8.6">β</tspan><tspan class="sub" font-size="8.0">1</tspan></text>
<text transform="translate(69.2 254.8) scale(1 1.04)" class="kb" style="fill:#ff2a2a;stroke:#ff2a2a" font-size="9.5">K<tspan class="gr" font-size="10.0">α</tspan></text>
<text transform="translate(118.8 257.4) scale(1 1.04)" class="kb" style="fill:#ff1aa3;stroke:#ff1aa3" font-size="9.5">E<tspan class="gr" font-size="10.0">α</tspan></text>
<text transform="translate(171.8 217.8) scale(1 1.04)" class="kb" style="fill:#189634;stroke:#189634" font-size="9.5">K<tspan class="gr" font-size="10.0">β</tspan></text>
<text transform="translate(212.1 219.5) scale(1 1.04)" class="kb" style="fill:#9b129c;stroke:#9b129c" font-size="7.6">K<tspan class="gr" font-size="8.6">β</tspan><tspan class="sub" font-size="8.0">1</tspan></text>
<text transform="translate(217.4 240.9) scale(1 1.04)" class="kb" style="fill:#ffc000;stroke:#ffc000" font-size="9.5">E<tspan class="gr" font-size="10.0">β</tspan></text>
<text transform="translate(116.2 362.4) scale(1 1.04)" class="kb" style="fill:#ff1aa3;stroke:#ff1aa3" font-size="9.5">E<tspan class="gr" font-size="10.0">α</tspan></text>
<text transform="translate(189.0 347.2) scale(1 1.04)" class="kb" style="fill:#189634;stroke:#189634" font-size="9.5">K<tspan class="gr" font-size="10.0">β</tspan></text>
<text transform="translate(207.7 330.3) scale(1 1.04)" class="kb" style="fill:#ffc000;stroke:#ffc000" font-size="9.5">E<tspan class="gr" font-size="10.0">β</tspan></text>
<text transform="translate(307.2 95.6) scale(1 1.04)" class="rg" style="fill:#ff2a2a;stroke:#ff2a2a" font-size="9.4">alpha acids</text>
<text transform="translate(319.4 105.9) scale(1 1.04)" class="kb" style="fill:#ff2a2a;stroke:#ff2a2a" font-size="9.5">K<tspan class="gr" font-size="10.0">α</tspan></text>
<text transform="translate(358.8 121.4) scale(1 1.04)" class="rg" style="fill:#ff1aa3;stroke:#ff1aa3" font-size="9.4">alpha esters</text>
<text transform="translate(378.4 135.5) scale(1 1.04)" class="kb" style="fill:#ff1aa3;stroke:#ff1aa3" font-size="9.5">E<tspan class="gr" font-size="10.0">α</tspan></text>
<text transform="translate(398.6 11.7) scale(1 1.04)" class="rg" style="fill:#189634;stroke:#189634" font-size="9.4">beta acids</text>
<text transform="translate(409.5 26.7) scale(1 1.04)" class="kb" style="fill:#189634;stroke:#189634" font-size="9.5">K<tspan class="gr" font-size="10.0">β</tspan></text>
<text transform="translate(461.0 109.2) scale(1 1.04)" class="rg" style="fill:#ffc000;stroke:#ffc000" font-size="9.4">beta esters</text>
<text transform="translate(474.0 123.5) scale(1 1.04)" class="kb" style="fill:#ffc000;stroke:#ffc000" font-size="9.5">E<tspan class="gr" font-size="10.0">β</tspan></text>
<text transform="translate(317.5 237.6) scale(1 1.04)" class="kb" style="fill:#ff2a2a;stroke:#ff2a2a" font-size="9.5">K<tspan class="gr" font-size="10.0">α</tspan></text>
<text transform="translate(373.0 253.7) scale(1 1.04)" class="kb" style="fill:#ff1aa3;stroke:#ff1aa3" font-size="9.5">E<tspan class="gr" font-size="10.0">α</tspan></text>
<text transform="translate(407.8 202.7) scale(1 1.04)" class="kb" style="fill:#189634;stroke:#189634" font-size="9.5">K<tspan class="gr" font-size="10.0">β</tspan></text>
<text transform="translate(470.8 220.9) scale(1 1.04)" class="kb" style="fill:#ffc000;stroke:#ffc000" font-size="9.5">E<tspan class="gr" font-size="10.0">β</tspan></text>
<text transform="translate(324.0 380.3) scale(1 1.04)" class="kb" style="fill:#ff2a2a;stroke:#ff2a2a" font-size="9.5">K<tspan class="gr" font-size="10.0">α</tspan></text>
<text transform="translate(375.0 374.0) scale(1 1.04)" class="kb" style="fill:#ff1aa3;stroke:#ff1aa3" font-size="9.5">E<tspan class="gr" font-size="10.0">α</tspan></text>
<text transform="translate(416.3 370.4) scale(1 1.04)" class="kb" style="fill:#189634;stroke:#189634" font-size="9.5">K<tspan class="gr" font-size="10.0">β</tspan></text>
<text transform="translate(468.7 345.3) scale(1 1.04)" class="kb" style="fill:#ffc000;stroke:#ffc000" font-size="9.5">E<tspan class="gr" font-size="10.0">β</tspan></text>
<text transform="translate(133.7 440.3) scale(1 1.04)" class="axt" font-size="12.8">δ/ppm</text>
<text transform="translate(393.5 440.3) scale(1 1.04)" class="axt" font-size="12.8">δ/ppm</text>
<path d="M199.6,139.4 Q200.6,134.0 202.1,130.8" fill="none" stroke="#7d7d7d" stroke-width="0.85"/>
<path d="M203.3,128.3 L202.9,132.3 L200.5,131.2 Z" fill="#6e6e6e"/>
<path d="M193.3,228.5 L186.8,220.3" fill="none" stroke="#7d7d7d" stroke-width="0.85"/>
<path d="M185.1,218.1 L188.5,220.2 L186.4,221.9 Z" fill="#6e6e6e"/>
<path d="M197.8,234.9 L209.2,222.1" fill="none" stroke="#7d7d7d" stroke-width="0.85"/>
<path d="M211.1,220.0 L209.6,223.7 L207.6,221.9 Z" fill="#6e6e6e"/>
</svg>
</body></html>
